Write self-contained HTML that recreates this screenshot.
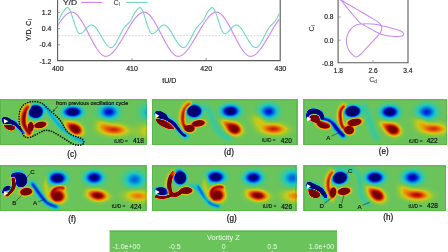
<!DOCTYPE html><html><head><meta charset="utf-8"><style>html,body{margin:0;padding:0;background:#fff;}body{width:448px;height:252px;overflow:hidden;}svg{display:block;}text{font-family:"Liberation Sans", Arial, sans-serif;}</style></head><body><svg width="448" height="252" viewBox="0 0 448 252"><defs><filter id="f0" filterUnits="userSpaceOnUse" x="0" y="90" width="448" height="130" color-interpolation-filters="sRGB"><feGaussianBlur stdDeviation="0.55"/></filter><filter id="f1" filterUnits="userSpaceOnUse" x="0" y="90" width="448" height="130" color-interpolation-filters="sRGB"><feGaussianBlur stdDeviation="1.40"/></filter><filter id="f2" filterUnits="userSpaceOnUse" x="0" y="90" width="448" height="130" color-interpolation-filters="sRGB"><feGaussianBlur stdDeviation="0.80"/></filter><filter id="f3" filterUnits="userSpaceOnUse" x="0" y="90" width="448" height="130" color-interpolation-filters="sRGB"><feGaussianBlur stdDeviation="1.60"/></filter><radialGradient id="gp0"><stop offset="0.000" stop-color="#f00" stop-opacity="1.000"/><stop offset="0.062" stop-color="#f00" stop-opacity="1.000"/><stop offset="0.125" stop-color="#f00" stop-opacity="1.000"/><stop offset="0.188" stop-color="#f00" stop-opacity="1.000"/><stop offset="0.250" stop-color="#f00" stop-opacity="1.000"/><stop offset="0.312" stop-color="#f00" stop-opacity="1.000"/><stop offset="0.375" stop-color="#f00" stop-opacity="1.000"/><stop offset="0.438" stop-color="#f00" stop-opacity="1.000"/><stop offset="0.500" stop-color="#f00" stop-opacity="1.000"/><stop offset="0.562" stop-color="#f00" stop-opacity="0.901"/><stop offset="0.625" stop-color="#f00" stop-opacity="0.578"/><stop offset="0.688" stop-color="#f00" stop-opacity="0.353"/><stop offset="0.750" stop-color="#f00" stop-opacity="0.206"/><stop offset="0.812" stop-color="#f00" stop-opacity="0.115"/><stop offset="0.875" stop-color="#f00" stop-opacity="0.061"/><stop offset="0.938" stop-color="#f00" stop-opacity="0.031"/><stop offset="1.000" stop-color="#f00" stop-opacity="0.015"/></radialGradient><radialGradient id="gn1"><stop offset="0.000" stop-color="#00f" stop-opacity="1.000"/><stop offset="0.062" stop-color="#00f" stop-opacity="1.000"/><stop offset="0.125" stop-color="#00f" stop-opacity="1.000"/><stop offset="0.188" stop-color="#00f" stop-opacity="1.000"/><stop offset="0.250" stop-color="#00f" stop-opacity="1.000"/><stop offset="0.312" stop-color="#00f" stop-opacity="1.000"/><stop offset="0.375" stop-color="#00f" stop-opacity="1.000"/><stop offset="0.438" stop-color="#00f" stop-opacity="1.000"/><stop offset="0.500" stop-color="#00f" stop-opacity="1.000"/><stop offset="0.562" stop-color="#00f" stop-opacity="0.901"/><stop offset="0.625" stop-color="#00f" stop-opacity="0.578"/><stop offset="0.688" stop-color="#00f" stop-opacity="0.353"/><stop offset="0.750" stop-color="#00f" stop-opacity="0.206"/><stop offset="0.812" stop-color="#00f" stop-opacity="0.115"/><stop offset="0.875" stop-color="#00f" stop-opacity="0.061"/><stop offset="0.938" stop-color="#00f" stop-opacity="0.031"/><stop offset="1.000" stop-color="#00f" stop-opacity="0.015"/></radialGradient><radialGradient id="gn2"><stop offset="0.000" stop-color="#00f" stop-opacity="1.000"/><stop offset="0.062" stop-color="#00f" stop-opacity="1.000"/><stop offset="0.125" stop-color="#00f" stop-opacity="1.000"/><stop offset="0.188" stop-color="#00f" stop-opacity="1.000"/><stop offset="0.250" stop-color="#00f" stop-opacity="1.000"/><stop offset="0.312" stop-color="#00f" stop-opacity="0.899"/><stop offset="0.375" stop-color="#00f" stop-opacity="0.740"/><stop offset="0.438" stop-color="#00f" stop-opacity="0.588"/><stop offset="0.500" stop-color="#00f" stop-opacity="0.450"/><stop offset="0.562" stop-color="#00f" stop-opacity="0.333"/><stop offset="0.625" stop-color="#00f" stop-opacity="0.238"/><stop offset="0.688" stop-color="#00f" stop-opacity="0.164"/><stop offset="0.750" stop-color="#00f" stop-opacity="0.109"/><stop offset="0.812" stop-color="#00f" stop-opacity="0.070"/><stop offset="0.875" stop-color="#00f" stop-opacity="0.043"/><stop offset="0.938" stop-color="#00f" stop-opacity="0.026"/><stop offset="1.000" stop-color="#00f" stop-opacity="0.015"/></radialGradient><filter id="f4" filterUnits="userSpaceOnUse" x="0" y="90" width="448" height="130" color-interpolation-filters="sRGB"><feGaussianBlur stdDeviation="2.00"/></filter><radialGradient id="gp3"><stop offset="0.000" stop-color="#f00" stop-opacity="1.000"/><stop offset="0.062" stop-color="#f00" stop-opacity="1.000"/><stop offset="0.125" stop-color="#f00" stop-opacity="1.000"/><stop offset="0.188" stop-color="#f00" stop-opacity="1.000"/><stop offset="0.250" stop-color="#f00" stop-opacity="0.913"/><stop offset="0.312" stop-color="#f00" stop-opacity="0.782"/><stop offset="0.375" stop-color="#f00" stop-opacity="0.648"/><stop offset="0.438" stop-color="#f00" stop-opacity="0.519"/><stop offset="0.500" stop-color="#f00" stop-opacity="0.401"/><stop offset="0.562" stop-color="#f00" stop-opacity="0.300"/><stop offset="0.625" stop-color="#f00" stop-opacity="0.217"/><stop offset="0.688" stop-color="#f00" stop-opacity="0.151"/><stop offset="0.750" stop-color="#f00" stop-opacity="0.102"/><stop offset="0.812" stop-color="#f00" stop-opacity="0.067"/><stop offset="0.875" stop-color="#f00" stop-opacity="0.042"/><stop offset="0.938" stop-color="#f00" stop-opacity="0.026"/><stop offset="1.000" stop-color="#f00" stop-opacity="0.015"/></radialGradient><radialGradient id="gn4"><stop offset="0.000" stop-color="#00f" stop-opacity="0.800"/><stop offset="0.062" stop-color="#00f" stop-opacity="0.788"/><stop offset="0.125" stop-color="#00f" stop-opacity="0.752"/><stop offset="0.188" stop-color="#00f" stop-opacity="0.696"/><stop offset="0.250" stop-color="#00f" stop-opacity="0.624"/><stop offset="0.312" stop-color="#00f" stop-opacity="0.543"/><stop offset="0.375" stop-color="#00f" stop-opacity="0.457"/><stop offset="0.438" stop-color="#00f" stop-opacity="0.374"/><stop offset="0.500" stop-color="#00f" stop-opacity="0.296"/><stop offset="0.562" stop-color="#00f" stop-opacity="0.227"/><stop offset="0.625" stop-color="#00f" stop-opacity="0.169"/><stop offset="0.688" stop-color="#00f" stop-opacity="0.122"/><stop offset="0.750" stop-color="#00f" stop-opacity="0.085"/><stop offset="0.812" stop-color="#00f" stop-opacity="0.058"/><stop offset="0.875" stop-color="#00f" stop-opacity="0.038"/><stop offset="0.938" stop-color="#00f" stop-opacity="0.024"/><stop offset="1.000" stop-color="#00f" stop-opacity="0.015"/></radialGradient><radialGradient id="gp5"><stop offset="0.000" stop-color="#f00" stop-opacity="0.720"/><stop offset="0.062" stop-color="#f00" stop-opacity="0.709"/><stop offset="0.125" stop-color="#f00" stop-opacity="0.678"/><stop offset="0.188" stop-color="#f00" stop-opacity="0.628"/><stop offset="0.250" stop-color="#f00" stop-opacity="0.565"/><stop offset="0.312" stop-color="#f00" stop-opacity="0.493"/><stop offset="0.375" stop-color="#f00" stop-opacity="0.418"/><stop offset="0.438" stop-color="#f00" stop-opacity="0.343"/><stop offset="0.500" stop-color="#f00" stop-opacity="0.274"/><stop offset="0.562" stop-color="#f00" stop-opacity="0.212"/><stop offset="0.625" stop-color="#f00" stop-opacity="0.159"/><stop offset="0.688" stop-color="#f00" stop-opacity="0.116"/><stop offset="0.750" stop-color="#f00" stop-opacity="0.082"/><stop offset="0.812" stop-color="#f00" stop-opacity="0.056"/><stop offset="0.875" stop-color="#f00" stop-opacity="0.037"/><stop offset="0.938" stop-color="#f00" stop-opacity="0.024"/><stop offset="1.000" stop-color="#f00" stop-opacity="0.015"/></radialGradient><radialGradient id="gp6"><stop offset="0.000" stop-color="#f00" stop-opacity="0.300"/><stop offset="0.062" stop-color="#f00" stop-opacity="0.297"/><stop offset="0.125" stop-color="#f00" stop-opacity="0.286"/><stop offset="0.188" stop-color="#f00" stop-opacity="0.270"/><stop offset="0.250" stop-color="#f00" stop-opacity="0.249"/><stop offset="0.312" stop-color="#f00" stop-opacity="0.224"/><stop offset="0.375" stop-color="#f00" stop-opacity="0.197"/><stop offset="0.438" stop-color="#f00" stop-opacity="0.169"/><stop offset="0.500" stop-color="#f00" stop-opacity="0.142"/><stop offset="0.562" stop-color="#f00" stop-opacity="0.116"/><stop offset="0.625" stop-color="#f00" stop-opacity="0.093"/><stop offset="0.688" stop-color="#f00" stop-opacity="0.073"/><stop offset="0.750" stop-color="#f00" stop-opacity="0.056"/><stop offset="0.812" stop-color="#f00" stop-opacity="0.042"/><stop offset="0.875" stop-color="#f00" stop-opacity="0.030"/><stop offset="0.938" stop-color="#f00" stop-opacity="0.022"/><stop offset="1.000" stop-color="#f00" stop-opacity="0.015"/></radialGradient><radialGradient id="gn7"><stop offset="0.000" stop-color="#00f" stop-opacity="0.500"/><stop offset="0.062" stop-color="#00f" stop-opacity="0.493"/><stop offset="0.125" stop-color="#00f" stop-opacity="0.473"/><stop offset="0.188" stop-color="#00f" stop-opacity="0.442"/><stop offset="0.250" stop-color="#00f" stop-opacity="0.402"/><stop offset="0.312" stop-color="#00f" stop-opacity="0.355"/><stop offset="0.375" stop-color="#00f" stop-opacity="0.305"/><stop offset="0.438" stop-color="#00f" stop-opacity="0.256"/><stop offset="0.500" stop-color="#00f" stop-opacity="0.208"/><stop offset="0.562" stop-color="#00f" stop-opacity="0.165"/><stop offset="0.625" stop-color="#00f" stop-opacity="0.127"/><stop offset="0.688" stop-color="#00f" stop-opacity="0.095"/><stop offset="0.750" stop-color="#00f" stop-opacity="0.070"/><stop offset="0.812" stop-color="#00f" stop-opacity="0.049"/><stop offset="0.875" stop-color="#00f" stop-opacity="0.034"/><stop offset="0.938" stop-color="#00f" stop-opacity="0.023"/><stop offset="1.000" stop-color="#00f" stop-opacity="0.015"/></radialGradient><radialGradient id="gp8"><stop offset="0.000" stop-color="#f00" stop-opacity="0.420"/><stop offset="0.062" stop-color="#f00" stop-opacity="0.415"/><stop offset="0.125" stop-color="#f00" stop-opacity="0.399"/><stop offset="0.188" stop-color="#f00" stop-opacity="0.374"/><stop offset="0.250" stop-color="#f00" stop-opacity="0.341"/><stop offset="0.312" stop-color="#f00" stop-opacity="0.303"/><stop offset="0.375" stop-color="#f00" stop-opacity="0.263"/><stop offset="0.438" stop-color="#f00" stop-opacity="0.222"/><stop offset="0.500" stop-color="#f00" stop-opacity="0.183"/><stop offset="0.562" stop-color="#f00" stop-opacity="0.146"/><stop offset="0.625" stop-color="#f00" stop-opacity="0.114"/><stop offset="0.688" stop-color="#f00" stop-opacity="0.087"/><stop offset="0.750" stop-color="#f00" stop-opacity="0.064"/><stop offset="0.812" stop-color="#f00" stop-opacity="0.047"/><stop offset="0.875" stop-color="#f00" stop-opacity="0.033"/><stop offset="0.938" stop-color="#f00" stop-opacity="0.022"/><stop offset="1.000" stop-color="#f00" stop-opacity="0.015"/></radialGradient><filter id="jet0" filterUnits="userSpaceOnUse" x="0.00" y="99.60" width="146.60" height="45.20" color-interpolation-filters="sRGB"><feGaussianBlur stdDeviation="0.6"/><feColorMatrix type="matrix" values="0.5 0 -0.5 0 0.5  0.5 0 -0.5 0 0.5  0.5 0 -0.5 0 0.5  0 0 0 0 1"/><feComponentTransfer><feFuncR type="table" tableValues="0.000 0.000 0.000 0.000 0.000 0.000 0.000 0.000 0.000 0.000 0.000 0.000 0.000 0.000 0.000 0.000 0.005 0.013 0.020 0.028 0.036 0.050 0.070 0.091 0.111 0.145 0.186 0.227 0.268 0.305 0.342 0.379 0.416 0.461 0.506 0.550 0.596 0.644 0.692 0.740 0.789 0.820 0.843 0.866 0.888 0.911 0.918 0.911 0.904 0.897 0.891 0.884 0.867 0.848 0.829 0.810 0.790 0.755 0.711 0.667 0.623 0.580 0.537 0.494 0.451"/><feFuncG type="table" tableValues="0.000 0.000 0.000 0.000 0.000 0.000 0.027 0.058 0.088 0.119 0.150 0.198 0.251 0.305 0.358 0.412 0.461 0.507 0.553 0.599 0.645 0.683 0.713 0.744 0.775 0.784 0.784 0.784 0.784 0.781 0.777 0.773 0.769 0.773 0.777 0.781 0.785 0.789 0.794 0.798 0.803 0.775 0.733 0.691 0.649 0.607 0.563 0.519 0.475 0.431 0.386 0.342 0.300 0.258 0.215 0.173 0.131 0.100 0.074 0.047 0.021 0.000 0.000 0.000 0.000"/><feFuncB type="table" tableValues="0.431 0.489 0.546 0.604 0.661 0.719 0.746 0.769 0.792 0.815 0.838 0.846 0.850 0.854 0.858 0.861 0.860 0.856 0.853 0.849 0.845 0.833 0.812 0.792 0.771 0.727 0.670 0.614 0.558 0.508 0.459 0.410 0.361 0.323 0.285 0.247 0.211 0.180 0.150 0.119 0.088 0.073 0.066 0.058 0.050 0.043 0.039 0.039 0.039 0.039 0.039 0.039 0.036 0.032 0.028 0.025 0.021 0.017 0.012 0.008 0.004 0.000 0.000 0.000 0.000"/></feComponentTransfer></filter><filter id="f5" filterUnits="userSpaceOnUse" x="0" y="90" width="448" height="130" color-interpolation-filters="sRGB"><feGaussianBlur stdDeviation="0.75"/></filter><filter id="f6" filterUnits="userSpaceOnUse" x="0" y="90" width="448" height="130" color-interpolation-filters="sRGB"><feGaussianBlur stdDeviation="1.30"/></filter><filter id="f7" filterUnits="userSpaceOnUse" x="0" y="90" width="448" height="130" color-interpolation-filters="sRGB"><feGaussianBlur stdDeviation="0.85"/></filter><radialGradient id="gn9"><stop offset="0.000" stop-color="#00f" stop-opacity="1.000"/><stop offset="0.062" stop-color="#00f" stop-opacity="1.000"/><stop offset="0.125" stop-color="#00f" stop-opacity="1.000"/><stop offset="0.188" stop-color="#00f" stop-opacity="1.000"/><stop offset="0.250" stop-color="#00f" stop-opacity="1.000"/><stop offset="0.312" stop-color="#00f" stop-opacity="1.000"/><stop offset="0.375" stop-color="#00f" stop-opacity="1.000"/><stop offset="0.438" stop-color="#00f" stop-opacity="1.000"/><stop offset="0.500" stop-color="#00f" stop-opacity="0.990"/><stop offset="0.562" stop-color="#00f" stop-opacity="0.683"/><stop offset="0.625" stop-color="#00f" stop-opacity="0.451"/><stop offset="0.688" stop-color="#00f" stop-opacity="0.285"/><stop offset="0.750" stop-color="#00f" stop-opacity="0.173"/><stop offset="0.812" stop-color="#00f" stop-opacity="0.100"/><stop offset="0.875" stop-color="#00f" stop-opacity="0.056"/><stop offset="0.938" stop-color="#00f" stop-opacity="0.030"/><stop offset="1.000" stop-color="#00f" stop-opacity="0.015"/></radialGradient><filter id="f8" filterUnits="userSpaceOnUse" x="0" y="90" width="448" height="130" color-interpolation-filters="sRGB"><feGaussianBlur stdDeviation="1.90"/></filter><radialGradient id="gn10"><stop offset="0.000" stop-color="#00f" stop-opacity="1.000"/><stop offset="0.062" stop-color="#00f" stop-opacity="1.000"/><stop offset="0.125" stop-color="#00f" stop-opacity="1.000"/><stop offset="0.188" stop-color="#00f" stop-opacity="1.000"/><stop offset="0.250" stop-color="#00f" stop-opacity="0.984"/><stop offset="0.312" stop-color="#00f" stop-opacity="0.841"/><stop offset="0.375" stop-color="#00f" stop-opacity="0.694"/><stop offset="0.438" stop-color="#00f" stop-opacity="0.553"/><stop offset="0.500" stop-color="#00f" stop-opacity="0.426"/><stop offset="0.562" stop-color="#00f" stop-opacity="0.317"/><stop offset="0.625" stop-color="#00f" stop-opacity="0.227"/><stop offset="0.688" stop-color="#00f" stop-opacity="0.158"/><stop offset="0.750" stop-color="#00f" stop-opacity="0.106"/><stop offset="0.812" stop-color="#00f" stop-opacity="0.068"/><stop offset="0.875" stop-color="#00f" stop-opacity="0.043"/><stop offset="0.938" stop-color="#00f" stop-opacity="0.026"/><stop offset="1.000" stop-color="#00f" stop-opacity="0.015"/></radialGradient><radialGradient id="gn11"><stop offset="0.000" stop-color="#00f" stop-opacity="0.750"/><stop offset="0.062" stop-color="#00f" stop-opacity="0.739"/><stop offset="0.125" stop-color="#00f" stop-opacity="0.706"/><stop offset="0.188" stop-color="#00f" stop-opacity="0.654"/><stop offset="0.250" stop-color="#00f" stop-opacity="0.587"/><stop offset="0.312" stop-color="#00f" stop-opacity="0.512"/><stop offset="0.375" stop-color="#00f" stop-opacity="0.433"/><stop offset="0.438" stop-color="#00f" stop-opacity="0.355"/><stop offset="0.500" stop-color="#00f" stop-opacity="0.282"/><stop offset="0.562" stop-color="#00f" stop-opacity="0.218"/><stop offset="0.625" stop-color="#00f" stop-opacity="0.163"/><stop offset="0.688" stop-color="#00f" stop-opacity="0.118"/><stop offset="0.750" stop-color="#00f" stop-opacity="0.083"/><stop offset="0.812" stop-color="#00f" stop-opacity="0.057"/><stop offset="0.875" stop-color="#00f" stop-opacity="0.038"/><stop offset="0.938" stop-color="#00f" stop-opacity="0.024"/><stop offset="1.000" stop-color="#00f" stop-opacity="0.015"/></radialGradient><radialGradient id="gp12"><stop offset="0.000" stop-color="#f00" stop-opacity="0.750"/><stop offset="0.062" stop-color="#f00" stop-opacity="0.739"/><stop offset="0.125" stop-color="#f00" stop-opacity="0.706"/><stop offset="0.188" stop-color="#f00" stop-opacity="0.654"/><stop offset="0.250" stop-color="#f00" stop-opacity="0.587"/><stop offset="0.312" stop-color="#f00" stop-opacity="0.512"/><stop offset="0.375" stop-color="#f00" stop-opacity="0.433"/><stop offset="0.438" stop-color="#f00" stop-opacity="0.355"/><stop offset="0.500" stop-color="#f00" stop-opacity="0.282"/><stop offset="0.562" stop-color="#f00" stop-opacity="0.218"/><stop offset="0.625" stop-color="#f00" stop-opacity="0.163"/><stop offset="0.688" stop-color="#f00" stop-opacity="0.118"/><stop offset="0.750" stop-color="#f00" stop-opacity="0.083"/><stop offset="0.812" stop-color="#f00" stop-opacity="0.057"/><stop offset="0.875" stop-color="#f00" stop-opacity="0.038"/><stop offset="0.938" stop-color="#f00" stop-opacity="0.024"/><stop offset="1.000" stop-color="#f00" stop-opacity="0.015"/></radialGradient><radialGradient id="gp13"><stop offset="0.000" stop-color="#f00" stop-opacity="0.280"/><stop offset="0.062" stop-color="#f00" stop-opacity="0.277"/><stop offset="0.125" stop-color="#f00" stop-opacity="0.267"/><stop offset="0.188" stop-color="#f00" stop-opacity="0.253"/><stop offset="0.250" stop-color="#f00" stop-opacity="0.233"/><stop offset="0.312" stop-color="#f00" stop-opacity="0.210"/><stop offset="0.375" stop-color="#f00" stop-opacity="0.186"/><stop offset="0.438" stop-color="#f00" stop-opacity="0.160"/><stop offset="0.500" stop-color="#f00" stop-opacity="0.135"/><stop offset="0.562" stop-color="#f00" stop-opacity="0.111"/><stop offset="0.625" stop-color="#f00" stop-opacity="0.089"/><stop offset="0.688" stop-color="#f00" stop-opacity="0.070"/><stop offset="0.750" stop-color="#f00" stop-opacity="0.054"/><stop offset="0.812" stop-color="#f00" stop-opacity="0.041"/><stop offset="0.875" stop-color="#f00" stop-opacity="0.030"/><stop offset="0.938" stop-color="#f00" stop-opacity="0.021"/><stop offset="1.000" stop-color="#f00" stop-opacity="0.015"/></radialGradient><filter id="jet1" filterUnits="userSpaceOnUse" x="152.00" y="99.60" width="145.10" height="45.20" color-interpolation-filters="sRGB"><feGaussianBlur stdDeviation="0.6"/><feColorMatrix type="matrix" values="0.5 0 -0.5 0 0.5  0.5 0 -0.5 0 0.5  0.5 0 -0.5 0 0.5  0 0 0 0 1"/><feComponentTransfer><feFuncR type="table" tableValues="0.000 0.000 0.000 0.000 0.000 0.000 0.000 0.000 0.000 0.000 0.000 0.000 0.000 0.000 0.000 0.000 0.005 0.013 0.020 0.028 0.036 0.050 0.070 0.091 0.111 0.145 0.186 0.227 0.268 0.305 0.342 0.379 0.416 0.461 0.506 0.550 0.596 0.644 0.692 0.740 0.789 0.820 0.843 0.866 0.888 0.911 0.918 0.911 0.904 0.897 0.891 0.884 0.867 0.848 0.829 0.810 0.790 0.755 0.711 0.667 0.623 0.580 0.537 0.494 0.451"/><feFuncG type="table" tableValues="0.000 0.000 0.000 0.000 0.000 0.000 0.027 0.058 0.088 0.119 0.150 0.198 0.251 0.305 0.358 0.412 0.461 0.507 0.553 0.599 0.645 0.683 0.713 0.744 0.775 0.784 0.784 0.784 0.784 0.781 0.777 0.773 0.769 0.773 0.777 0.781 0.785 0.789 0.794 0.798 0.803 0.775 0.733 0.691 0.649 0.607 0.563 0.519 0.475 0.431 0.386 0.342 0.300 0.258 0.215 0.173 0.131 0.100 0.074 0.047 0.021 0.000 0.000 0.000 0.000"/><feFuncB type="table" tableValues="0.431 0.489 0.546 0.604 0.661 0.719 0.746 0.769 0.792 0.815 0.838 0.846 0.850 0.854 0.858 0.861 0.860 0.856 0.853 0.849 0.845 0.833 0.812 0.792 0.771 0.727 0.670 0.614 0.558 0.508 0.459 0.410 0.361 0.323 0.285 0.247 0.211 0.180 0.150 0.119 0.088 0.073 0.066 0.058 0.050 0.043 0.039 0.039 0.039 0.039 0.039 0.039 0.036 0.032 0.028 0.025 0.021 0.017 0.012 0.008 0.004 0.000 0.000 0.000 0.000"/></feComponentTransfer></filter><filter id="f9" filterUnits="userSpaceOnUse" x="0" y="90" width="448" height="130" color-interpolation-filters="sRGB"><feGaussianBlur stdDeviation="0.70"/></filter><filter id="f10" filterUnits="userSpaceOnUse" x="0" y="90" width="448" height="130" color-interpolation-filters="sRGB"><feGaussianBlur stdDeviation="1.50"/></filter><radialGradient id="gn14"><stop offset="0.000" stop-color="#00f" stop-opacity="0.700"/><stop offset="0.062" stop-color="#00f" stop-opacity="0.690"/><stop offset="0.125" stop-color="#00f" stop-opacity="0.659"/><stop offset="0.188" stop-color="#00f" stop-opacity="0.612"/><stop offset="0.250" stop-color="#00f" stop-opacity="0.551"/><stop offset="0.312" stop-color="#00f" stop-opacity="0.481"/><stop offset="0.375" stop-color="#00f" stop-opacity="0.408"/><stop offset="0.438" stop-color="#00f" stop-opacity="0.335"/><stop offset="0.500" stop-color="#00f" stop-opacity="0.268"/><stop offset="0.562" stop-color="#00f" stop-opacity="0.207"/><stop offset="0.625" stop-color="#00f" stop-opacity="0.156"/><stop offset="0.688" stop-color="#00f" stop-opacity="0.114"/><stop offset="0.750" stop-color="#00f" stop-opacity="0.081"/><stop offset="0.812" stop-color="#00f" stop-opacity="0.055"/><stop offset="0.875" stop-color="#00f" stop-opacity="0.037"/><stop offset="0.938" stop-color="#00f" stop-opacity="0.024"/><stop offset="1.000" stop-color="#00f" stop-opacity="0.015"/></radialGradient><radialGradient id="gp15"><stop offset="0.000" stop-color="#f00" stop-opacity="0.700"/><stop offset="0.062" stop-color="#f00" stop-opacity="0.690"/><stop offset="0.125" stop-color="#f00" stop-opacity="0.659"/><stop offset="0.188" stop-color="#f00" stop-opacity="0.612"/><stop offset="0.250" stop-color="#f00" stop-opacity="0.551"/><stop offset="0.312" stop-color="#f00" stop-opacity="0.481"/><stop offset="0.375" stop-color="#f00" stop-opacity="0.408"/><stop offset="0.438" stop-color="#f00" stop-opacity="0.335"/><stop offset="0.500" stop-color="#f00" stop-opacity="0.268"/><stop offset="0.562" stop-color="#f00" stop-opacity="0.207"/><stop offset="0.625" stop-color="#f00" stop-opacity="0.156"/><stop offset="0.688" stop-color="#f00" stop-opacity="0.114"/><stop offset="0.750" stop-color="#f00" stop-opacity="0.081"/><stop offset="0.812" stop-color="#f00" stop-opacity="0.055"/><stop offset="0.875" stop-color="#f00" stop-opacity="0.037"/><stop offset="0.938" stop-color="#f00" stop-opacity="0.024"/><stop offset="1.000" stop-color="#f00" stop-opacity="0.015"/></radialGradient><filter id="jet2" filterUnits="userSpaceOnUse" x="303.70" y="99.60" width="143.10" height="45.20" color-interpolation-filters="sRGB"><feGaussianBlur stdDeviation="0.6"/><feColorMatrix type="matrix" values="0.5 0 -0.5 0 0.5  0.5 0 -0.5 0 0.5  0.5 0 -0.5 0 0.5  0 0 0 0 1"/><feComponentTransfer><feFuncR type="table" tableValues="0.000 0.000 0.000 0.000 0.000 0.000 0.000 0.000 0.000 0.000 0.000 0.000 0.000 0.000 0.000 0.000 0.005 0.013 0.020 0.028 0.036 0.050 0.070 0.091 0.111 0.145 0.186 0.227 0.268 0.305 0.342 0.379 0.416 0.461 0.506 0.550 0.596 0.644 0.692 0.740 0.789 0.820 0.843 0.866 0.888 0.911 0.918 0.911 0.904 0.897 0.891 0.884 0.867 0.848 0.829 0.810 0.790 0.755 0.711 0.667 0.623 0.580 0.537 0.494 0.451"/><feFuncG type="table" tableValues="0.000 0.000 0.000 0.000 0.000 0.000 0.027 0.058 0.088 0.119 0.150 0.198 0.251 0.305 0.358 0.412 0.461 0.507 0.553 0.599 0.645 0.683 0.713 0.744 0.775 0.784 0.784 0.784 0.784 0.781 0.777 0.773 0.769 0.773 0.777 0.781 0.785 0.789 0.794 0.798 0.803 0.775 0.733 0.691 0.649 0.607 0.563 0.519 0.475 0.431 0.386 0.342 0.300 0.258 0.215 0.173 0.131 0.100 0.074 0.047 0.021 0.000 0.000 0.000 0.000"/><feFuncB type="table" tableValues="0.431 0.489 0.546 0.604 0.661 0.719 0.746 0.769 0.792 0.815 0.838 0.846 0.850 0.854 0.858 0.861 0.860 0.856 0.853 0.849 0.845 0.833 0.812 0.792 0.771 0.727 0.670 0.614 0.558 0.508 0.459 0.410 0.361 0.323 0.285 0.247 0.211 0.180 0.150 0.119 0.088 0.073 0.066 0.058 0.050 0.043 0.039 0.039 0.039 0.039 0.039 0.039 0.036 0.032 0.028 0.025 0.021 0.017 0.012 0.008 0.004 0.000 0.000 0.000 0.000"/></feComponentTransfer></filter><filter id="f11" filterUnits="userSpaceOnUse" x="0" y="90" width="448" height="130" color-interpolation-filters="sRGB"><feGaussianBlur stdDeviation="0.60"/></filter><filter id="f12" filterUnits="userSpaceOnUse" x="0" y="90" width="448" height="130" color-interpolation-filters="sRGB"><feGaussianBlur stdDeviation="1.00"/></filter><filter id="f13" filterUnits="userSpaceOnUse" x="0" y="90" width="448" height="130" color-interpolation-filters="sRGB"><feGaussianBlur stdDeviation="1.70"/></filter><radialGradient id="gp16"><stop offset="0.000" stop-color="#f00" stop-opacity="1.000"/><stop offset="0.062" stop-color="#f00" stop-opacity="1.000"/><stop offset="0.125" stop-color="#f00" stop-opacity="1.000"/><stop offset="0.188" stop-color="#f00" stop-opacity="1.000"/><stop offset="0.250" stop-color="#f00" stop-opacity="1.000"/><stop offset="0.312" stop-color="#f00" stop-opacity="0.870"/><stop offset="0.375" stop-color="#f00" stop-opacity="0.717"/><stop offset="0.438" stop-color="#f00" stop-opacity="0.571"/><stop offset="0.500" stop-color="#f00" stop-opacity="0.438"/><stop offset="0.562" stop-color="#f00" stop-opacity="0.325"/><stop offset="0.625" stop-color="#f00" stop-opacity="0.233"/><stop offset="0.688" stop-color="#f00" stop-opacity="0.161"/><stop offset="0.750" stop-color="#f00" stop-opacity="0.107"/><stop offset="0.812" stop-color="#f00" stop-opacity="0.069"/><stop offset="0.875" stop-color="#f00" stop-opacity="0.043"/><stop offset="0.938" stop-color="#f00" stop-opacity="0.026"/><stop offset="1.000" stop-color="#f00" stop-opacity="0.015"/></radialGradient><radialGradient id="gp17"><stop offset="0.000" stop-color="#f00" stop-opacity="0.850"/><stop offset="0.062" stop-color="#f00" stop-opacity="0.837"/><stop offset="0.125" stop-color="#f00" stop-opacity="0.798"/><stop offset="0.188" stop-color="#f00" stop-opacity="0.738"/><stop offset="0.250" stop-color="#f00" stop-opacity="0.660"/><stop offset="0.312" stop-color="#f00" stop-opacity="0.573"/><stop offset="0.375" stop-color="#f00" stop-opacity="0.482"/><stop offset="0.438" stop-color="#f00" stop-opacity="0.392"/><stop offset="0.500" stop-color="#f00" stop-opacity="0.310"/><stop offset="0.562" stop-color="#f00" stop-opacity="0.237"/><stop offset="0.625" stop-color="#f00" stop-opacity="0.176"/><stop offset="0.688" stop-color="#f00" stop-opacity="0.126"/><stop offset="0.750" stop-color="#f00" stop-opacity="0.088"/><stop offset="0.812" stop-color="#f00" stop-opacity="0.059"/><stop offset="0.875" stop-color="#f00" stop-opacity="0.039"/><stop offset="0.938" stop-color="#f00" stop-opacity="0.024"/><stop offset="1.000" stop-color="#f00" stop-opacity="0.015"/></radialGradient><filter id="f14" filterUnits="userSpaceOnUse" x="0" y="90" width="448" height="130" color-interpolation-filters="sRGB"><feGaussianBlur stdDeviation="1.80"/></filter><radialGradient id="gn18"><stop offset="0.000" stop-color="#00f" stop-opacity="1.000"/><stop offset="0.062" stop-color="#00f" stop-opacity="1.000"/><stop offset="0.125" stop-color="#00f" stop-opacity="1.000"/><stop offset="0.188" stop-color="#00f" stop-opacity="0.946"/><stop offset="0.250" stop-color="#00f" stop-opacity="0.841"/><stop offset="0.312" stop-color="#00f" stop-opacity="0.723"/><stop offset="0.375" stop-color="#00f" stop-opacity="0.601"/><stop offset="0.438" stop-color="#00f" stop-opacity="0.483"/><stop offset="0.500" stop-color="#00f" stop-opacity="0.376"/><stop offset="0.562" stop-color="#00f" stop-opacity="0.283"/><stop offset="0.625" stop-color="#00f" stop-opacity="0.205"/><stop offset="0.688" stop-color="#00f" stop-opacity="0.144"/><stop offset="0.750" stop-color="#00f" stop-opacity="0.098"/><stop offset="0.812" stop-color="#00f" stop-opacity="0.065"/><stop offset="0.875" stop-color="#00f" stop-opacity="0.041"/><stop offset="0.938" stop-color="#00f" stop-opacity="0.025"/><stop offset="1.000" stop-color="#00f" stop-opacity="0.015"/></radialGradient><radialGradient id="gp19"><stop offset="0.000" stop-color="#f00" stop-opacity="1.000"/><stop offset="0.062" stop-color="#f00" stop-opacity="1.000"/><stop offset="0.125" stop-color="#f00" stop-opacity="0.983"/><stop offset="0.188" stop-color="#f00" stop-opacity="0.904"/><stop offset="0.250" stop-color="#f00" stop-opacity="0.805"/><stop offset="0.312" stop-color="#f00" stop-opacity="0.693"/><stop offset="0.375" stop-color="#f00" stop-opacity="0.578"/><stop offset="0.438" stop-color="#f00" stop-opacity="0.466"/><stop offset="0.500" stop-color="#f00" stop-opacity="0.363"/><stop offset="0.562" stop-color="#f00" stop-opacity="0.274"/><stop offset="0.625" stop-color="#f00" stop-opacity="0.200"/><stop offset="0.688" stop-color="#f00" stop-opacity="0.141"/><stop offset="0.750" stop-color="#f00" stop-opacity="0.096"/><stop offset="0.812" stop-color="#f00" stop-opacity="0.064"/><stop offset="0.875" stop-color="#f00" stop-opacity="0.041"/><stop offset="0.938" stop-color="#f00" stop-opacity="0.025"/><stop offset="1.000" stop-color="#f00" stop-opacity="0.015"/></radialGradient><radialGradient id="gn20"><stop offset="0.000" stop-color="#00f" stop-opacity="0.550"/><stop offset="0.062" stop-color="#00f" stop-opacity="0.542"/><stop offset="0.125" stop-color="#00f" stop-opacity="0.520"/><stop offset="0.188" stop-color="#00f" stop-opacity="0.485"/><stop offset="0.250" stop-color="#00f" stop-opacity="0.439"/><stop offset="0.312" stop-color="#00f" stop-opacity="0.387"/><stop offset="0.375" stop-color="#00f" stop-opacity="0.331"/><stop offset="0.438" stop-color="#00f" stop-opacity="0.276"/><stop offset="0.500" stop-color="#00f" stop-opacity="0.224"/><stop offset="0.562" stop-color="#00f" stop-opacity="0.176"/><stop offset="0.625" stop-color="#00f" stop-opacity="0.135"/><stop offset="0.688" stop-color="#00f" stop-opacity="0.100"/><stop offset="0.750" stop-color="#00f" stop-opacity="0.073"/><stop offset="0.812" stop-color="#00f" stop-opacity="0.051"/><stop offset="0.875" stop-color="#00f" stop-opacity="0.035"/><stop offset="0.938" stop-color="#00f" stop-opacity="0.023"/><stop offset="1.000" stop-color="#00f" stop-opacity="0.015"/></radialGradient><radialGradient id="gp21"><stop offset="0.000" stop-color="#f00" stop-opacity="0.500"/><stop offset="0.062" stop-color="#f00" stop-opacity="0.493"/><stop offset="0.125" stop-color="#f00" stop-opacity="0.473"/><stop offset="0.188" stop-color="#f00" stop-opacity="0.442"/><stop offset="0.250" stop-color="#f00" stop-opacity="0.402"/><stop offset="0.312" stop-color="#f00" stop-opacity="0.355"/><stop offset="0.375" stop-color="#f00" stop-opacity="0.305"/><stop offset="0.438" stop-color="#f00" stop-opacity="0.256"/><stop offset="0.500" stop-color="#f00" stop-opacity="0.208"/><stop offset="0.562" stop-color="#f00" stop-opacity="0.165"/><stop offset="0.625" stop-color="#f00" stop-opacity="0.127"/><stop offset="0.688" stop-color="#f00" stop-opacity="0.095"/><stop offset="0.750" stop-color="#f00" stop-opacity="0.070"/><stop offset="0.812" stop-color="#f00" stop-opacity="0.049"/><stop offset="0.875" stop-color="#f00" stop-opacity="0.034"/><stop offset="0.938" stop-color="#f00" stop-opacity="0.023"/><stop offset="1.000" stop-color="#f00" stop-opacity="0.015"/></radialGradient><filter id="jet3" filterUnits="userSpaceOnUse" x="0.00" y="165.70" width="146.10" height="45.00" color-interpolation-filters="sRGB"><feGaussianBlur stdDeviation="0.6"/><feColorMatrix type="matrix" values="0.5 0 -0.5 0 0.5  0.5 0 -0.5 0 0.5  0.5 0 -0.5 0 0.5  0 0 0 0 1"/><feComponentTransfer><feFuncR type="table" tableValues="0.000 0.000 0.000 0.000 0.000 0.000 0.000 0.000 0.000 0.000 0.000 0.000 0.000 0.000 0.000 0.000 0.005 0.013 0.020 0.028 0.036 0.050 0.070 0.091 0.111 0.145 0.186 0.227 0.268 0.305 0.342 0.379 0.416 0.461 0.506 0.550 0.596 0.644 0.692 0.740 0.789 0.820 0.843 0.866 0.888 0.911 0.918 0.911 0.904 0.897 0.891 0.884 0.867 0.848 0.829 0.810 0.790 0.755 0.711 0.667 0.623 0.580 0.537 0.494 0.451"/><feFuncG type="table" tableValues="0.000 0.000 0.000 0.000 0.000 0.000 0.027 0.058 0.088 0.119 0.150 0.198 0.251 0.305 0.358 0.412 0.461 0.507 0.553 0.599 0.645 0.683 0.713 0.744 0.775 0.784 0.784 0.784 0.784 0.781 0.777 0.773 0.769 0.773 0.777 0.781 0.785 0.789 0.794 0.798 0.803 0.775 0.733 0.691 0.649 0.607 0.563 0.519 0.475 0.431 0.386 0.342 0.300 0.258 0.215 0.173 0.131 0.100 0.074 0.047 0.021 0.000 0.000 0.000 0.000"/><feFuncB type="table" tableValues="0.431 0.489 0.546 0.604 0.661 0.719 0.746 0.769 0.792 0.815 0.838 0.846 0.850 0.854 0.858 0.861 0.860 0.856 0.853 0.849 0.845 0.833 0.812 0.792 0.771 0.727 0.670 0.614 0.558 0.508 0.459 0.410 0.361 0.323 0.285 0.247 0.211 0.180 0.150 0.119 0.088 0.073 0.066 0.058 0.050 0.043 0.039 0.039 0.039 0.039 0.039 0.039 0.036 0.032 0.028 0.025 0.021 0.017 0.012 0.008 0.004 0.000 0.000 0.000 0.000"/></feComponentTransfer></filter><radialGradient id="gn22"><stop offset="0.000" stop-color="#00f" stop-opacity="1.000"/><stop offset="0.062" stop-color="#00f" stop-opacity="1.000"/><stop offset="0.125" stop-color="#00f" stop-opacity="1.000"/><stop offset="0.188" stop-color="#00f" stop-opacity="1.000"/><stop offset="0.250" stop-color="#00f" stop-opacity="1.000"/><stop offset="0.312" stop-color="#00f" stop-opacity="1.000"/><stop offset="0.375" stop-color="#00f" stop-opacity="1.000"/><stop offset="0.438" stop-color="#00f" stop-opacity="1.000"/><stop offset="0.500" stop-color="#00f" stop-opacity="1.000"/><stop offset="0.562" stop-color="#00f" stop-opacity="1.000"/><stop offset="0.625" stop-color="#00f" stop-opacity="0.688"/><stop offset="0.688" stop-color="#00f" stop-opacity="0.411"/><stop offset="0.750" stop-color="#00f" stop-opacity="0.234"/><stop offset="0.812" stop-color="#00f" stop-opacity="0.127"/><stop offset="0.875" stop-color="#00f" stop-opacity="0.065"/><stop offset="0.938" stop-color="#00f" stop-opacity="0.032"/><stop offset="1.000" stop-color="#00f" stop-opacity="0.015"/></radialGradient><radialGradient id="gn23"><stop offset="0.000" stop-color="#00f" stop-opacity="1.000"/><stop offset="0.062" stop-color="#00f" stop-opacity="1.000"/><stop offset="0.125" stop-color="#00f" stop-opacity="1.000"/><stop offset="0.188" stop-color="#00f" stop-opacity="1.000"/><stop offset="0.250" stop-color="#00f" stop-opacity="1.000"/><stop offset="0.312" stop-color="#00f" stop-opacity="0.870"/><stop offset="0.375" stop-color="#00f" stop-opacity="0.717"/><stop offset="0.438" stop-color="#00f" stop-opacity="0.571"/><stop offset="0.500" stop-color="#00f" stop-opacity="0.438"/><stop offset="0.562" stop-color="#00f" stop-opacity="0.325"/><stop offset="0.625" stop-color="#00f" stop-opacity="0.233"/><stop offset="0.688" stop-color="#00f" stop-opacity="0.161"/><stop offset="0.750" stop-color="#00f" stop-opacity="0.107"/><stop offset="0.812" stop-color="#00f" stop-opacity="0.069"/><stop offset="0.875" stop-color="#00f" stop-opacity="0.043"/><stop offset="0.938" stop-color="#00f" stop-opacity="0.026"/><stop offset="1.000" stop-color="#00f" stop-opacity="0.015"/></radialGradient><filter id="jet4" filterUnits="userSpaceOnUse" x="152.10" y="165.70" width="144.00" height="45.00" color-interpolation-filters="sRGB"><feGaussianBlur stdDeviation="0.6"/><feColorMatrix type="matrix" values="0.5 0 -0.5 0 0.5  0.5 0 -0.5 0 0.5  0.5 0 -0.5 0 0.5  0 0 0 0 1"/><feComponentTransfer><feFuncR type="table" tableValues="0.000 0.000 0.000 0.000 0.000 0.000 0.000 0.000 0.000 0.000 0.000 0.000 0.000 0.000 0.000 0.000 0.005 0.013 0.020 0.028 0.036 0.050 0.070 0.091 0.111 0.145 0.186 0.227 0.268 0.305 0.342 0.379 0.416 0.461 0.506 0.550 0.596 0.644 0.692 0.740 0.789 0.820 0.843 0.866 0.888 0.911 0.918 0.911 0.904 0.897 0.891 0.884 0.867 0.848 0.829 0.810 0.790 0.755 0.711 0.667 0.623 0.580 0.537 0.494 0.451"/><feFuncG type="table" tableValues="0.000 0.000 0.000 0.000 0.000 0.000 0.027 0.058 0.088 0.119 0.150 0.198 0.251 0.305 0.358 0.412 0.461 0.507 0.553 0.599 0.645 0.683 0.713 0.744 0.775 0.784 0.784 0.784 0.784 0.781 0.777 0.773 0.769 0.773 0.777 0.781 0.785 0.789 0.794 0.798 0.803 0.775 0.733 0.691 0.649 0.607 0.563 0.519 0.475 0.431 0.386 0.342 0.300 0.258 0.215 0.173 0.131 0.100 0.074 0.047 0.021 0.000 0.000 0.000 0.000"/><feFuncB type="table" tableValues="0.431 0.489 0.546 0.604 0.661 0.719 0.746 0.769 0.792 0.815 0.838 0.846 0.850 0.854 0.858 0.861 0.860 0.856 0.853 0.849 0.845 0.833 0.812 0.792 0.771 0.727 0.670 0.614 0.558 0.508 0.459 0.410 0.361 0.323 0.285 0.247 0.211 0.180 0.150 0.119 0.088 0.073 0.066 0.058 0.050 0.043 0.039 0.039 0.039 0.039 0.039 0.039 0.036 0.032 0.028 0.025 0.021 0.017 0.012 0.008 0.004 0.000 0.000 0.000 0.000"/></feComponentTransfer></filter><radialGradient id="gn24"><stop offset="0.000" stop-color="#00f" stop-opacity="1.000"/><stop offset="0.062" stop-color="#00f" stop-opacity="1.000"/><stop offset="0.125" stop-color="#00f" stop-opacity="1.000"/><stop offset="0.188" stop-color="#00f" stop-opacity="1.000"/><stop offset="0.250" stop-color="#00f" stop-opacity="1.000"/><stop offset="0.312" stop-color="#00f" stop-opacity="1.000"/><stop offset="0.375" stop-color="#00f" stop-opacity="1.000"/><stop offset="0.438" stop-color="#00f" stop-opacity="1.000"/><stop offset="0.500" stop-color="#00f" stop-opacity="1.000"/><stop offset="0.562" stop-color="#00f" stop-opacity="0.796"/><stop offset="0.625" stop-color="#00f" stop-opacity="0.517"/><stop offset="0.688" stop-color="#00f" stop-opacity="0.321"/><stop offset="0.750" stop-color="#00f" stop-opacity="0.190"/><stop offset="0.812" stop-color="#00f" stop-opacity="0.108"/><stop offset="0.875" stop-color="#00f" stop-opacity="0.059"/><stop offset="0.938" stop-color="#00f" stop-opacity="0.030"/><stop offset="1.000" stop-color="#00f" stop-opacity="0.015"/></radialGradient><radialGradient id="gn25"><stop offset="0.000" stop-color="#00f" stop-opacity="0.900"/><stop offset="0.062" stop-color="#00f" stop-opacity="0.886"/><stop offset="0.125" stop-color="#00f" stop-opacity="0.844"/><stop offset="0.188" stop-color="#00f" stop-opacity="0.779"/><stop offset="0.250" stop-color="#00f" stop-opacity="0.697"/><stop offset="0.312" stop-color="#00f" stop-opacity="0.603"/><stop offset="0.375" stop-color="#00f" stop-opacity="0.506"/><stop offset="0.438" stop-color="#00f" stop-opacity="0.411"/><stop offset="0.500" stop-color="#00f" stop-opacity="0.323"/><stop offset="0.562" stop-color="#00f" stop-opacity="0.246"/><stop offset="0.625" stop-color="#00f" stop-opacity="0.182"/><stop offset="0.688" stop-color="#00f" stop-opacity="0.130"/><stop offset="0.750" stop-color="#00f" stop-opacity="0.090"/><stop offset="0.812" stop-color="#00f" stop-opacity="0.060"/><stop offset="0.875" stop-color="#00f" stop-opacity="0.039"/><stop offset="0.938" stop-color="#00f" stop-opacity="0.025"/><stop offset="1.000" stop-color="#00f" stop-opacity="0.015"/></radialGradient><filter id="jet5" filterUnits="userSpaceOnUse" x="303.80" y="165.70" width="142.20" height="45.00" color-interpolation-filters="sRGB"><feGaussianBlur stdDeviation="0.6"/><feColorMatrix type="matrix" values="0.5 0 -0.5 0 0.5  0.5 0 -0.5 0 0.5  0.5 0 -0.5 0 0.5  0 0 0 0 1"/><feComponentTransfer><feFuncR type="table" tableValues="0.000 0.000 0.000 0.000 0.000 0.000 0.000 0.000 0.000 0.000 0.000 0.000 0.000 0.000 0.000 0.000 0.005 0.013 0.020 0.028 0.036 0.050 0.070 0.091 0.111 0.145 0.186 0.227 0.268 0.305 0.342 0.379 0.416 0.461 0.506 0.550 0.596 0.644 0.692 0.740 0.789 0.820 0.843 0.866 0.888 0.911 0.918 0.911 0.904 0.897 0.891 0.884 0.867 0.848 0.829 0.810 0.790 0.755 0.711 0.667 0.623 0.580 0.537 0.494 0.451"/><feFuncG type="table" tableValues="0.000 0.000 0.000 0.000 0.000 0.000 0.027 0.058 0.088 0.119 0.150 0.198 0.251 0.305 0.358 0.412 0.461 0.507 0.553 0.599 0.645 0.683 0.713 0.744 0.775 0.784 0.784 0.784 0.784 0.781 0.777 0.773 0.769 0.773 0.777 0.781 0.785 0.789 0.794 0.798 0.803 0.775 0.733 0.691 0.649 0.607 0.563 0.519 0.475 0.431 0.386 0.342 0.300 0.258 0.215 0.173 0.131 0.100 0.074 0.047 0.021 0.000 0.000 0.000 0.000"/><feFuncB type="table" tableValues="0.431 0.489 0.546 0.604 0.661 0.719 0.746 0.769 0.792 0.815 0.838 0.846 0.850 0.854 0.858 0.861 0.860 0.856 0.853 0.849 0.845 0.833 0.812 0.792 0.771 0.727 0.670 0.614 0.558 0.508 0.459 0.410 0.361 0.323 0.285 0.247 0.211 0.180 0.150 0.119 0.088 0.073 0.066 0.058 0.050 0.043 0.039 0.039 0.039 0.039 0.039 0.039 0.036 0.032 0.028 0.025 0.021 0.017 0.012 0.008 0.004 0.000 0.000 0.000 0.000"/></feComponentTransfer></filter></defs><path d="M57.6 -1 V60.6 H280.2 V-1" fill="none" stroke="#5a5a5a" stroke-width="1.1"/><path d="M58 12.4 h2" stroke="#5a5a5a" stroke-width="0.6"/><path d="M58 28.6 h2" stroke="#5a5a5a" stroke-width="0.6"/><path d="M58 44.8 h2" stroke="#5a5a5a" stroke-width="0.6"/><path d="M132.0 60 v-2" stroke="#5a5a5a" stroke-width="0.6"/><path d="M206.2 60 v-2" stroke="#5a5a5a" stroke-width="0.6"/><path d="M58.5 35.7 H279.5" stroke="#c8c8c8" stroke-width="0.8" stroke-dasharray="1.6 1.6"/><path d="M58.20 24.81 L58.70 24.02 L59.20 23.25 L59.70 22.50 L60.20 21.76 L60.70 21.04 L61.20 20.34 L61.70 19.66 L62.20 19.01 L62.70 18.37 L63.20 17.76 L63.70 17.17 L64.20 16.61 L64.70 16.07 L65.20 15.57 L65.70 15.09 L66.20 14.65 L66.70 14.23 L67.20 13.85 L67.70 13.50 L68.20 13.19 L68.70 12.92 L69.20 12.68 L69.70 12.48 L70.20 12.32 L70.70 12.21 L71.20 12.13 L71.70 12.10 L72.20 12.12 L72.70 12.19 L73.20 12.32 L73.70 12.50 L74.20 12.73 L74.70 13.01 L75.20 13.34 L75.70 13.71 L76.20 14.13 L76.70 14.59 L77.20 15.09 L77.70 15.63 L78.20 16.21 L78.70 16.82 L79.20 17.47 L79.70 18.15 L80.20 18.86 L80.70 19.60 L81.20 20.37 L81.70 21.16 L82.20 21.98 L82.70 22.82 L83.20 23.67 L83.70 24.55 L84.20 25.45 L84.70 26.36 L85.20 27.28 L85.70 28.22 L86.20 29.17 L86.70 30.13 L87.20 31.09 L87.70 32.06 L88.20 33.03 L88.70 34.01 L89.20 34.98 L89.70 35.95 L90.20 36.92 L90.70 37.89 L91.20 38.85 L91.70 39.80 L92.20 40.74 L92.70 41.67 L93.20 42.59 L93.70 43.49 L94.20 44.38 L94.70 45.24 L95.20 46.09 L95.70 46.92 L96.20 47.72 L96.70 48.50 L97.20 49.25 L97.70 49.97 L98.20 50.66 L98.70 51.32 L99.20 51.95 L99.70 52.54 L100.20 53.10 L100.70 53.61 L101.20 54.09 L101.70 54.53 L102.20 54.92 L102.70 55.26 L103.20 55.56 L103.70 55.81 L104.20 56.02 L104.70 56.16 L105.20 56.26 L105.70 56.30 L106.20 56.29 L106.70 56.23 L107.20 56.13 L107.70 55.99 L108.20 55.80 L108.70 55.58 L109.20 55.32 L109.70 55.02 L110.20 54.69 L110.70 54.32 L111.20 53.92 L111.70 53.49 L112.20 53.03 L112.70 52.53 L113.20 52.01 L113.70 51.46 L114.20 50.88 L114.70 50.28 L115.20 49.65 L115.70 49.00 L116.20 48.33 L116.70 47.64 L117.20 46.93 L117.70 46.20 L118.20 45.45 L118.70 44.69 L119.20 43.91 L119.70 43.12 L120.20 42.31 L120.70 41.50 L121.20 40.68 L121.70 39.84 L122.20 39.00 L122.70 38.15 L123.20 37.30 L123.70 36.44 L124.20 35.58 L124.70 34.72 L125.20 33.85 L125.70 32.99 L126.20 32.13 L126.70 31.27 L127.20 30.42 L127.70 29.57 L128.20 28.73 L128.70 27.89 L129.20 27.06 L129.70 26.25 L130.20 25.44 L130.70 24.65 L131.20 23.87 L131.70 23.10 L132.20 22.35 L132.70 21.62 L133.20 20.90 L133.70 20.21 L134.20 19.53 L134.70 18.88 L135.20 18.25 L135.70 17.64 L136.20 17.06 L136.70 16.50 L137.20 15.97 L137.70 15.47 L138.20 15.00 L138.70 14.56 L139.20 14.15 L139.70 13.78 L140.20 13.44 L140.70 13.13 L141.20 12.87 L141.70 12.64 L142.20 12.45 L142.70 12.30 L143.20 12.19 L143.70 12.12 L144.20 12.10 L144.70 12.13 L145.20 12.21 L145.70 12.35 L146.20 12.54 L146.70 12.78 L147.20 13.07 L147.70 13.41 L148.20 13.79 L148.70 14.22 L149.20 14.69 L149.70 15.20 L150.20 15.74 L150.70 16.33 L151.20 16.95 L151.70 17.60 L152.20 18.29 L152.70 19.01 L153.20 19.75 L153.70 20.52 L154.20 21.32 L154.70 22.14 L155.20 22.99 L155.70 23.85 L156.20 24.73 L156.70 25.63 L157.20 26.54 L157.70 27.47 L158.20 28.41 L158.70 29.36 L159.20 30.32 L159.70 31.28 L160.20 32.25 L160.70 33.23 L161.20 34.20 L161.70 35.17 L162.20 36.15 L162.70 37.12 L163.20 38.08 L163.70 39.04 L164.20 39.99 L164.70 40.93 L165.20 41.86 L165.70 42.77 L166.20 43.67 L166.70 44.55 L167.20 45.41 L167.70 46.26 L168.20 47.08 L168.70 47.88 L169.20 48.65 L169.70 49.39 L170.20 50.11 L170.70 50.80 L171.20 51.45 L171.70 52.07 L172.20 52.66 L172.70 53.20 L173.20 53.71 L173.70 54.18 L174.20 54.61 L174.70 54.99 L175.20 55.33 L175.70 55.62 L176.20 55.86 L176.70 56.05 L177.20 56.19 L177.70 56.27 L178.20 56.30 L178.70 56.28 L179.20 56.21 L179.70 56.10 L180.20 55.95 L180.70 55.76 L181.20 55.53 L181.70 55.27 L182.20 54.96 L182.70 54.62 L183.20 54.25 L183.70 53.84 L184.20 53.40 L184.70 52.93 L185.20 52.43 L185.70 51.90 L186.20 51.34 L186.70 50.76 L187.20 50.15 L187.70 49.52 L188.20 48.87 L188.70 48.19 L189.20 47.50 L189.70 46.78 L190.20 46.05 L190.70 45.30 L191.20 44.53 L191.70 43.75 L192.20 42.96 L192.70 42.15 L193.20 41.34 L193.70 40.51 L194.20 39.67 L194.70 38.83 L195.20 37.98 L195.70 37.13 L196.20 36.27 L196.70 35.41 L197.20 34.55 L197.70 33.68 L198.20 32.82 L198.70 31.96 L199.20 31.10 L199.70 30.25 L200.20 29.40 L200.70 28.56 L201.20 27.72 L201.70 26.90 L202.20 26.09 L202.70 25.28 L203.20 24.49 L203.70 23.71 L204.20 22.95 L204.70 22.20 L205.20 21.47 L205.70 20.76 L206.20 20.07 L206.70 19.40 L207.20 18.75 L207.70 18.12 L208.20 17.52 L208.70 16.94 L209.20 16.39 L209.70 15.87 L210.20 15.37 L210.70 14.91 L211.20 14.48 L211.70 14.08 L212.20 13.71 L212.70 13.38 L213.20 13.08 L213.70 12.82 L214.20 12.60 L214.70 12.41 L215.20 12.27 L215.70 12.17 L216.20 12.11 L216.70 12.10 L217.20 12.14 L217.70 12.24 L218.20 12.38 L218.70 12.59 L219.20 12.84 L219.70 13.14 L220.20 13.48 L220.70 13.87 L221.20 14.31 L221.70 14.79 L222.20 15.30 L222.70 15.86 L223.20 16.45 L223.70 17.08 L224.20 17.74 L224.70 18.43 L225.20 19.15 L225.70 19.90 L226.20 20.68 L226.70 21.48 L227.20 22.31 L227.70 23.16 L228.20 24.02 L228.70 24.91 L229.20 25.81 L229.70 26.73 L230.20 27.66 L230.70 28.60 L231.20 29.55 L231.70 30.51 L232.20 31.48 L232.70 32.45 L233.20 33.42 L233.70 34.39 L234.20 35.37 L234.70 36.34 L235.20 37.31 L235.70 38.27 L236.20 39.23 L236.70 40.18 L237.20 41.12 L237.70 42.04 L238.20 42.95 L238.70 43.85 L239.20 44.73 L239.70 45.58 L240.20 46.42 L240.70 47.24 L241.20 48.03 L241.70 48.80 L242.20 49.54 L242.70 50.25 L243.20 50.93 L243.70 51.58 L244.20 52.19 L244.70 52.77 L245.20 53.31 L245.70 53.81 L246.20 54.27 L246.70 54.69 L247.20 55.06 L247.70 55.39 L248.20 55.67 L248.70 55.90 L249.20 56.08 L249.70 56.21 L250.20 56.28 L250.70 56.30 L251.20 56.27 L251.70 56.19 L252.20 56.08 L252.70 55.92 L253.20 55.72 L253.70 55.48 L254.20 55.21 L254.70 54.90 L255.20 54.55 L255.70 54.17 L256.20 53.75 L256.70 53.31 L257.20 52.83 L257.70 52.33 L258.20 51.79 L258.70 51.23 L259.20 50.64 L259.70 50.03 L260.20 49.39 L260.70 48.74 L261.20 48.06 L261.70 47.36 L262.20 46.64 L262.70 45.90 L263.20 45.15 L263.70 44.38 L264.20 43.59 L264.70 42.80 L265.20 41.99 L265.70 41.17 L266.20 40.34 L266.70 39.51 L267.20 38.66 L267.70 37.81 L268.20 36.96 L268.70 36.10 L269.20 35.24 L269.70 34.37 L270.20 33.51 L270.70 32.65 L271.20 31.79 L271.70 30.93 L272.20 30.08 L272.70 29.23 L273.20 28.39 L273.70 27.56 L274.20 26.74 L274.70 25.92 L275.20 25.12 L275.70 24.33 L276.20 23.56 L276.70 22.80 L277.20 22.06 L277.70 21.33 L278.20 20.62 L278.70 19.93 L279.20 19.27" fill="none" stroke="#cb8cef" stroke-width="1.15"/><path d="M58.20 20.72 L58.70 19.93 L59.20 19.03 L59.70 18.07 L60.20 17.05 L60.70 16.02 L61.20 15.00 L61.70 14.02 L62.20 13.10 L62.70 12.29 L63.20 11.60 L63.70 10.96 L64.20 10.31 L64.70 9.67 L65.20 9.07 L65.70 8.53 L66.20 8.09 L66.70 7.78 L67.20 7.62 L67.70 7.65 L68.20 7.91 L68.70 8.40 L69.20 9.09 L69.70 9.96 L70.20 10.99 L70.70 12.16 L71.20 13.45 L71.70 14.84 L72.20 16.30 L72.70 17.83 L73.20 19.39 L73.70 20.97 L74.20 22.54 L74.70 24.09 L75.20 25.59 L75.70 27.03 L76.20 28.38 L76.70 29.62 L77.20 30.74 L77.70 31.71 L78.20 32.51 L78.70 33.12 L79.20 33.52 L79.70 33.69 L80.20 33.67 L80.70 33.55 L81.20 33.36 L81.70 33.09 L82.20 32.75 L82.70 32.36 L83.20 31.92 L83.70 31.44 L84.20 30.93 L84.70 30.40 L85.20 29.85 L85.70 29.29 L86.20 28.74 L86.70 28.19 L87.20 27.66 L87.70 27.16 L88.20 26.69 L88.70 26.26 L89.20 25.88 L89.70 25.55 L90.20 25.30 L90.70 25.12 L91.20 25.02 L91.70 25.01 L92.20 25.09 L92.70 25.25 L93.20 25.49 L93.70 25.80 L94.20 26.18 L94.70 26.63 L95.20 27.13 L95.70 27.69 L96.20 28.31 L96.70 28.96 L97.20 29.66 L97.70 30.40 L98.20 31.17 L98.70 31.97 L99.20 32.79 L99.70 33.63 L100.20 34.48 L100.70 35.34 L101.20 36.21 L101.70 37.08 L102.20 37.95 L102.70 38.80 L103.20 39.64 L103.70 40.47 L104.20 41.27 L104.70 42.05 L105.20 42.79 L105.70 43.50 L106.20 44.17 L106.70 44.79 L107.20 45.36 L107.70 45.88 L108.20 46.34 L108.70 46.73 L109.20 47.06 L109.70 47.31 L110.20 47.49 L110.70 47.58 L111.20 47.59 L111.70 47.49 L112.20 47.28 L112.70 46.96 L113.20 46.56 L113.70 46.06 L114.20 45.49 L114.70 44.84 L115.20 44.12 L115.70 43.35 L116.20 42.52 L116.70 41.64 L117.20 40.73 L117.70 39.79 L118.20 38.82 L118.70 37.83 L119.20 36.83 L119.70 35.83 L120.20 34.83 L120.70 33.84 L121.20 32.87 L121.70 31.92 L122.20 31.01 L122.70 30.13 L123.20 29.29 L123.70 28.51 L124.20 27.78 L124.70 27.12 L125.20 26.53 L125.70 25.98 L126.20 25.46 L126.70 24.96 L127.20 24.48 L127.70 23.99 L128.20 23.51 L128.70 23.00 L129.20 22.46 L129.70 21.89 L130.20 21.27 L130.70 20.57 L131.20 19.76 L131.70 18.85 L132.20 17.86 L132.70 16.84 L133.20 15.81 L133.70 14.80 L134.20 13.83 L134.70 12.93 L135.20 12.14 L135.70 11.48 L136.20 10.83 L136.70 10.18 L137.20 9.54 L137.70 8.95 L138.20 8.43 L138.70 8.02 L139.20 7.73 L139.70 7.60 L140.20 7.68 L140.70 7.99 L141.20 8.52 L141.70 9.25 L142.20 10.15 L142.70 11.21 L143.20 12.41 L143.70 13.72 L144.20 15.13 L144.70 16.61 L145.20 18.14 L145.70 19.70 L146.20 21.28 L146.70 22.85 L147.20 24.39 L147.70 25.88 L148.20 27.30 L148.70 28.64 L149.20 29.86 L149.70 30.95 L150.20 31.88 L150.70 32.65 L151.20 33.22 L151.70 33.58 L152.20 33.70 L152.70 33.65 L153.20 33.52 L153.70 33.31 L154.20 33.02 L154.70 32.68 L155.20 32.28 L155.70 31.83 L156.20 31.34 L156.70 30.83 L157.20 30.29 L157.70 29.74 L158.20 29.18 L158.70 28.63 L159.20 28.08 L159.70 27.56 L160.20 27.06 L160.70 26.60 L161.20 26.18 L161.70 25.81 L162.20 25.50 L162.70 25.26 L163.20 25.09 L163.70 25.01 L164.20 25.02 L164.70 25.11 L165.20 25.29 L165.70 25.54 L166.20 25.87 L166.70 26.26 L167.20 26.72 L167.70 27.24 L168.20 27.81 L168.70 28.43 L169.20 29.10 L169.70 29.81 L170.20 30.55 L170.70 31.33 L171.20 32.13 L171.70 32.96 L172.20 33.80 L172.70 34.65 L173.20 35.52 L173.70 36.39 L174.20 37.26 L174.70 38.12 L175.20 38.97 L175.70 39.81 L176.20 40.63 L176.70 41.43 L177.20 42.20 L177.70 42.94 L178.20 43.64 L178.70 44.29 L179.20 44.91 L179.70 45.47 L180.20 45.97 L180.70 46.42 L181.20 46.80 L181.70 47.11 L182.20 47.35 L182.70 47.51 L183.20 47.59 L183.70 47.58 L184.20 47.45 L184.70 47.22 L185.20 46.89 L185.70 46.46 L186.20 45.95 L186.70 45.36 L187.20 44.70 L187.70 43.97 L188.20 43.18 L188.70 42.35 L189.20 41.47 L189.70 40.55 L190.20 39.60 L190.70 38.62 L191.20 37.63 L191.70 36.63 L192.20 35.63 L192.70 34.63 L193.20 33.65 L193.70 32.68 L194.20 31.74 L194.70 30.83 L195.20 29.96 L195.70 29.13 L196.20 28.36 L196.70 27.65 L197.20 27.00 L197.70 26.41 L198.20 25.87 L198.70 25.36 L199.20 24.86 L199.70 24.38 L200.20 23.90 L200.70 23.41 L201.20 22.89 L201.70 22.35 L202.20 21.77 L202.70 21.13 L203.20 20.42 L203.70 19.58 L204.20 18.65 L204.70 17.66 L205.20 16.64 L205.70 15.61 L206.20 14.60 L206.70 13.64 L207.20 12.77 L207.70 12.00 L208.20 11.35 L208.70 10.70 L209.20 10.05 L209.70 9.42 L210.20 8.84 L210.70 8.34 L211.20 7.95 L211.70 7.69 L212.20 7.60 L212.70 7.72 L213.20 8.08 L213.70 8.65 L214.20 9.42 L214.70 10.35 L215.20 11.44 L215.70 12.66 L216.20 14.00 L216.70 15.42 L217.20 16.91 L217.70 18.45 L218.20 20.02 L218.70 21.60 L219.20 23.16 L219.70 24.69 L220.20 26.17 L220.70 27.58 L221.20 28.89 L221.70 30.09 L222.20 31.15 L222.70 32.05 L223.20 32.78 L223.70 33.31 L224.20 33.62 L224.70 33.70 L225.20 33.63 L225.70 33.48 L226.20 33.26 L226.70 32.96 L227.20 32.60 L227.70 32.19 L228.20 31.74 L228.70 31.24 L229.20 30.72 L229.70 30.18 L230.20 29.63 L230.70 29.07 L231.20 28.52 L231.70 27.98 L232.20 27.46 L232.70 26.96 L233.20 26.51 L233.70 26.10 L234.20 25.74 L234.70 25.44 L235.20 25.22 L235.70 25.07 L236.20 25.00 L236.70 25.03 L237.20 25.14 L237.70 25.33 L238.20 25.60 L238.70 25.94 L239.20 26.35 L239.70 26.82 L240.20 27.35 L240.70 27.93 L241.20 28.56 L241.70 29.24 L242.20 29.95 L242.70 30.71 L243.20 31.49 L243.70 32.29 L244.20 33.12 L244.70 33.97 L245.20 34.83 L245.70 35.69 L246.20 36.56 L246.70 37.43 L247.20 38.29 L247.70 39.14 L248.20 39.98 L248.70 40.79 L249.20 41.59 L249.70 42.35 L250.20 43.08 L250.70 43.77 L251.20 44.42 L251.70 45.02 L252.20 45.57 L252.70 46.07 L253.20 46.50 L253.70 46.87 L254.20 47.17 L254.70 47.39 L255.20 47.54 L255.70 47.60 L256.20 47.56 L256.70 47.42 L257.20 47.16 L257.70 46.81 L258.20 46.37 L258.70 45.84 L259.20 45.23 L259.70 44.56 L260.20 43.82 L260.70 43.02 L261.20 42.17 L261.70 41.28 L262.20 40.36 L262.70 39.40 L263.20 38.43 L263.70 37.43 L264.20 36.43 L264.70 35.43 L265.20 34.44 L265.70 33.45 L266.20 32.49 L266.70 31.55 L267.20 30.65 L267.70 29.79 L268.20 28.97 L268.70 28.21 L269.20 27.51 L269.70 26.88 L270.20 26.30 L270.70 25.76 L271.20 25.26 L271.70 24.77 L272.20 24.28 L272.70 23.80 L273.20 23.30 L273.70 22.79 L274.20 22.24 L274.70 21.65 L275.20 21.00 L275.70 20.26 L276.20 19.40 L276.70 18.46 L277.20 17.46 L277.70 16.43 L278.20 15.40 L278.70 14.40 L279.20 13.46" fill="none" stroke="#7bd6bd" stroke-width="1.15"/><path d="M81.2 2.4 H102.2" stroke="#cb8cef" stroke-width="1.15"/><path d="M126.3 2.4 H147.6" stroke="#7bd6bd" stroke-width="1.15"/><text x="63.00" y="4.50" font-size="8.00" text-anchor="start" fill="#151515" textLength="14" lengthAdjust="spacingAndGlyphs" stroke="#151515" stroke-width="0.15">Y/D</text><text x="113.60" y="4.60" font-size="7.20" text-anchor="start" fill="#151515">C</text><text x="118.90" y="5.80" font-size="4.80" text-anchor="start" fill="#151515">l</text><text x="51.40" y="14.90" font-size="6.90" text-anchor="end" fill="#151515" stroke="#151515" stroke-width="0.15">1.2</text><text x="51.40" y="31.10" font-size="6.90" text-anchor="end" fill="#151515" stroke="#151515" stroke-width="0.15">0.4</text><text x="51.40" y="47.30" font-size="6.90" text-anchor="end" fill="#151515" stroke="#151515" stroke-width="0.15">-0.4</text><text x="51.40" y="63.50" font-size="6.90" text-anchor="end" fill="#151515" stroke="#151515" stroke-width="0.15">-1.2</text><text x="57.80" y="70.90" font-size="7.00" text-anchor="middle" fill="#151515" stroke="#151515" stroke-width="0.15">400</text><text x="132.00" y="70.90" font-size="7.00" text-anchor="middle" fill="#151515" stroke="#151515" stroke-width="0.15">410</text><text x="206.20" y="70.90" font-size="7.00" text-anchor="middle" fill="#151515" stroke="#151515" stroke-width="0.15">420</text><text x="280.40" y="70.90" font-size="7.00" text-anchor="middle" fill="#151515" stroke="#151515" stroke-width="0.15">430</text><text x="169.20" y="83.00" font-size="7.00" text-anchor="middle" fill="#151515" stroke="#151515" stroke-width="0.15">tU/D</text><text transform="translate(30.6 30) rotate(-90)" font-size="7" text-anchor="middle" fill="#151515" stroke="#151515" stroke-width="0.15">Y/D, C<tspan font-size="4.6" dy="1.5" dx="0.8">l</tspan></text><path d="M338.1 -1 V62.8 H408 V-1" fill="none" stroke="#5a5a5a" stroke-width="1.1"/><path d="M338.5 17.0 h2" stroke="#5a5a5a" stroke-width="0.6"/><path d="M338.5 40.2 h2" stroke="#5a5a5a" stroke-width="0.6"/><path d="M373 62.3 v-2" stroke="#5a5a5a" stroke-width="0.6"/><path d="M340.30 -0.60 C341.37 -0.05 345.38 2.72 348.00 4.30 C350.62 5.88 353.33 7.37 356.00 8.90 C358.67 10.43 361.33 11.97 364.00 13.50 C366.67 15.03 369.75 16.73 372.00 18.10 C374.25 19.47 376.03 20.58 377.50 21.70 C378.97 22.82 380.08 23.68 380.80 24.80 C381.52 25.92 381.87 27.10 381.80 28.40 C381.73 29.70 381.28 31.12 380.40 32.60 C379.52 34.08 377.93 35.67 376.50 37.30 C375.07 38.93 373.55 40.52 371.80 42.40 C370.05 44.28 367.82 46.67 366.00 48.60 C364.18 50.53 362.30 52.67 360.90 54.00 C359.50 55.33 358.58 56.17 357.60 56.60 C356.62 57.03 356.05 57.13 355.00 56.60 C353.95 56.07 352.42 54.63 351.30 53.40 C350.18 52.17 349.08 50.83 348.30 49.20 C347.52 47.57 346.88 45.43 346.60 43.60 C346.32 41.77 346.37 39.87 346.60 38.20 C346.83 36.53 347.37 35.03 348.00 33.60 C348.63 32.17 349.50 30.77 350.40 29.60 C351.30 28.43 352.30 27.40 353.40 26.60 C354.50 25.80 355.73 25.23 357.00 24.80 C358.27 24.37 359.50 24.17 361.00 24.00 C362.50 23.83 364.20 23.80 366.00 23.80 C367.80 23.80 369.97 23.87 371.80 24.00 C373.63 24.13 375.42 24.33 377.00 24.60 C378.58 24.87 379.63 25.22 381.30 25.60 C382.97 25.98 385.07 26.43 387.00 26.90 C388.93 27.37 391.07 27.87 392.90 28.40 C394.73 28.93 396.45 29.50 398.00 30.10 C399.55 30.70 401.23 31.35 402.20 32.00 C403.17 32.65 403.75 33.38 403.80 34.00 C403.85 34.62 403.08 35.32 402.50 35.70 C401.92 36.08 401.55 36.15 400.30 36.30 C399.05 36.45 396.88 36.63 395.00 36.60 C393.12 36.57 390.92 36.37 389.00 36.10 C387.08 35.83 385.18 35.47 383.50 35.00 C381.82 34.53 380.48 34.00 378.90 33.30 C377.32 32.60 375.55 31.65 374.00 30.80 C372.45 29.95 371.07 29.02 369.60 28.20 C368.13 27.38 366.60 26.67 365.20 25.90 C363.80 25.13 362.47 24.53 361.20 23.60 C359.93 22.67 358.87 21.63 357.60 20.30 C356.33 18.97 355.00 17.27 353.60 15.60 C352.20 13.93 350.67 12.08 349.20 10.30 C347.73 8.52 346.07 6.45 344.80 4.90 C343.53 3.35 342.35 1.92 341.60 1.00 C340.85 0.08 339.23 -1.15 340.30 -0.60Z" fill="none" stroke="#cb8cef" stroke-width="1.05"/><text x="333.40" y="19.40" font-size="6.60" text-anchor="end" fill="#151515" stroke="#151515" stroke-width="0.15">0.8</text><text x="333.40" y="42.60" font-size="6.60" text-anchor="end" fill="#151515" stroke="#151515" stroke-width="0.15">0.0</text><text x="333.40" y="65.70" font-size="6.60" text-anchor="end" fill="#151515" stroke="#151515" stroke-width="0.15">-0.8</text><text x="338.40" y="72.60" font-size="6.60" text-anchor="middle" fill="#151515" stroke="#151515" stroke-width="0.15">1.8</text><text x="373.00" y="72.60" font-size="6.60" text-anchor="middle" fill="#151515" stroke="#151515" stroke-width="0.15">2.6</text><text x="407.90" y="72.60" font-size="6.60" text-anchor="middle" fill="#151515" stroke="#151515" stroke-width="0.15">3.4</text><text x="369.20" y="81.60" font-size="7.20" text-anchor="start" fill="#151515">C</text><text x="374.30" y="83.40" font-size="4.80" text-anchor="start" fill="#151515">d</text><text transform="translate(313.6 28.2) rotate(-90)" font-size="7.2" text-anchor="middle" fill="#151515">C<tspan font-size="4.8" dy="1.6" dx="0.5">l</tspan></text><g filter="url(#jet0)"><rect x="-4.00" y="95.60" width="154.60" height="53.20" fill="#000"/><g><path d="M3.90 124.60 C4.37 124.43 5.68 124.77 6.70 124.80 C7.72 124.83 8.98 124.73 10.00 124.80 C11.02 124.87 11.97 124.90 12.80 125.20 C13.63 125.50 14.53 126.08 15.00 126.60 C15.47 127.12 15.70 127.77 15.60 128.30 C15.50 128.83 14.97 129.42 14.40 129.80 C13.83 130.18 13.03 130.52 12.20 130.60 C11.37 130.68 10.32 130.58 9.40 130.30 C8.48 130.02 7.43 129.42 6.70 128.90 C5.97 128.38 5.47 127.72 5.00 127.20 C4.53 126.68 4.08 126.23 3.90 125.80 C3.72 125.37 3.43 124.77 3.90 124.60Z" fill="#f00" opacity="1.00" filter="url(#f0)"/><path d="M28.6 107.4 C24.8 111 23.4 117 24 123 S26.8 130.5 29.6 133.2" fill="none" stroke="#f00" stroke-width="4.20" stroke-linecap="round" stroke-linejoin="round" opacity="1.00" filter="url(#f2)"/><path d="M27.5 106 C21.5 111 20.5 120 22 126 S24.5 133 27 135" fill="none" stroke="#f00" stroke-width="5.40" stroke-linecap="round" stroke-linejoin="round" opacity="0.45" filter="url(#f3)"/><ellipse cx="30.80" cy="126.80" rx="4.59" ry="7.90" fill="url(#gp0)"/><ellipse cx="40.30" cy="124.90" rx="9.94" ry="5.10" fill="url(#gp0)" transform="rotate(-12.0 40.30 124.90)"/><path d="M63.50 121.00 L76.70 124.89 A4.60 4.60 0 1 1 71.71 132.04 Z" fill="#f00" opacity="0.85" filter="url(#f4)"/><ellipse cx="75.40" cy="129.30" rx="13.94" ry="9.58" fill="url(#gp3)" transform="rotate(28.0 75.40 129.30)"/><ellipse cx="114.00" cy="129.80" rx="24.35" ry="9.74" fill="url(#gp5)" transform="rotate(3.0 114.00 129.80)"/><ellipse cx="103.50" cy="125.50" rx="12.47" ry="8.32" fill="url(#gp6)" transform="rotate(25.0 103.50 125.50)"/><ellipse cx="153.00" cy="131.00" rx="23.39" ry="11.69" fill="url(#gp8)"/></g><g style="mix-blend-mode:screen"><path d="M2.20 118.30 C2.35 117.47 2.73 117.43 3.30 117.20 C3.87 116.97 4.85 116.83 5.60 116.90 C6.35 116.97 6.88 117.18 7.80 117.60 C8.72 118.02 10.00 118.82 11.10 119.40 C12.20 119.98 13.28 120.35 14.40 121.10 C15.52 121.85 16.77 122.97 17.80 123.90 C18.83 124.83 19.77 125.78 20.60 126.70 C21.43 127.62 22.17 128.57 22.80 129.40 C23.43 130.23 24.03 131.05 24.40 131.70 C24.77 132.35 25.08 132.93 25.00 133.30 C24.92 133.67 24.37 133.98 23.90 133.90 C23.43 133.82 22.85 133.35 22.20 132.80 C21.55 132.25 20.73 131.35 20.00 130.60 C19.27 129.85 18.53 129.05 17.80 128.30 C17.07 127.55 16.43 126.70 15.60 126.10 C14.77 125.50 13.73 125.02 12.80 124.70 C11.87 124.38 11.02 124.28 10.00 124.20 C8.98 124.12 7.72 124.25 6.70 124.20 C5.68 124.15 4.62 124.23 3.90 123.90 C3.18 123.57 2.68 123.13 2.40 122.20 C2.12 121.27 2.05 119.13 2.20 118.30Z" fill="#00f" opacity="1.00" filter="url(#f0)"/><path d="M15.5 123.0 S21 129 23.8 133.0" fill="none" stroke="#00f" stroke-width="6.00" stroke-linecap="round" stroke-linejoin="round" opacity="0.30" filter="url(#f1)"/><ellipse cx="35.60" cy="111.60" rx="11.47" ry="10.20" fill="url(#gn1)"/><path d="M45 106 C49.5 112 54 120 61 127 S74 138 83 141.5" fill="none" stroke="#00f" stroke-width="3.20" stroke-linecap="round" stroke-linejoin="round" opacity="0.48" filter="url(#f1)"/><ellipse cx="72.70" cy="111.90" rx="16.82" ry="9.69" fill="url(#gn2)"/><ellipse cx="108.90" cy="111.90" rx="16.65" ry="12.02" fill="url(#gn4)"/><ellipse cx="151.50" cy="112.00" rx="17.07" ry="13.65" fill="url(#gn7)"/></g></g><rect x="0.35" y="99.95" width="145.90" height="44.50" fill="none" stroke="#4fae3f" stroke-width="0.7" opacity="0.8"/><polygon points="3.6,118.8 4.2,123.6 8.3,121.2" fill="#fff"/><g filter="url(#jet1)"><rect x="148.00" y="95.60" width="153.10" height="53.20" fill="#000"/><g><path d="M156.80 118.60 C157.68 118.47 159.95 119.28 161.30 119.60 C162.65 119.92 163.85 120.17 164.90 120.50 C165.95 120.83 166.77 121.13 167.60 121.60 C168.43 122.07 169.08 122.60 169.90 123.30 C170.72 124.00 171.72 124.95 172.50 125.80 C173.28 126.65 174.42 127.80 174.60 128.40 C174.78 129.00 174.53 129.30 173.60 129.40 C172.67 129.50 170.52 129.33 169.00 129.00 C167.48 128.67 166.00 128.03 164.50 127.40 C163.00 126.77 161.22 126.00 160.00 125.20 C158.78 124.40 157.87 123.40 157.20 122.60 C156.53 121.80 156.07 121.07 156.00 120.40 C155.93 119.73 155.92 118.73 156.80 118.60Z" fill="#f00" opacity="1.00" filter="url(#f5)"/><path d="M190 104 C185.5 106.5 183 111 182.8 117.5 S183.5 124.5 185.5 127.5" fill="none" stroke="#f00" stroke-width="2.80" stroke-linecap="round" stroke-linejoin="round" opacity="1.00" filter="url(#f7)"/><path d="M189 102.5 C183 105.5 181 112 181 118 S182 126 184 129" fill="none" stroke="#f00" stroke-width="4.00" stroke-linecap="round" stroke-linejoin="round" opacity="0.35" filter="url(#f3)"/><ellipse cx="189.50" cy="128.60" rx="8.41" ry="5.86" fill="url(#gp0)"/><ellipse cx="198.30" cy="123.40" rx="10.71" ry="5.10" fill="url(#gp0)" transform="rotate(-8.0 198.30 123.40)"/><path d="M220.00 119.60 L235.79 124.62 A4.60 4.60 0 1 1 230.95 132.04 Z" fill="#f00" opacity="0.85" filter="url(#f4)"/><ellipse cx="234.40" cy="129.00" rx="13.65" ry="9.87" fill="url(#gp3)" transform="rotate(20.0 234.40 129.00)"/><ellipse cx="273.50" cy="129.00" rx="22.61" ry="9.67" fill="url(#gp12)" transform="rotate(2.0 273.50 129.00)"/><ellipse cx="259.00" cy="121.00" rx="12.99" ry="9.74" fill="url(#gp13)" transform="rotate(35.0 259.00 121.00)"/></g><g style="mix-blend-mode:screen"><path d="M154.60 113.30 C154.72 112.52 155.08 111.83 155.60 111.40 C156.12 110.97 156.87 110.75 157.70 110.70 C158.53 110.65 159.65 110.78 160.60 111.10 C161.55 111.42 162.45 112.07 163.40 112.60 C164.35 113.13 165.58 113.58 166.30 114.30 C167.02 115.02 167.27 116.18 167.70 116.90 C168.13 117.62 168.27 118.07 168.90 118.60 C169.53 119.13 170.50 119.43 171.50 120.10 C172.50 120.77 173.75 121.47 174.90 122.60 C176.05 123.73 177.22 125.35 178.40 126.90 C179.58 128.45 180.80 130.60 182.00 131.90 C183.20 133.20 184.88 134.00 185.60 134.70 C186.32 135.40 186.55 135.78 186.30 136.10 C186.05 136.42 185.05 136.95 184.10 136.60 C183.15 136.25 181.78 135.15 180.60 134.00 C179.42 132.85 178.20 131.13 177.00 129.70 C175.80 128.27 174.53 126.55 173.40 125.40 C172.27 124.25 171.27 123.58 170.20 122.80 C169.13 122.02 168.02 121.23 167.00 120.70 C165.98 120.17 165.05 119.88 164.10 119.60 C163.15 119.32 162.25 119.22 161.30 119.00 C160.35 118.78 159.23 118.53 158.40 118.30 C157.57 118.07 156.88 117.97 156.30 117.60 C155.72 117.23 155.18 116.82 154.90 116.10 C154.62 115.38 154.48 114.08 154.60 113.30Z" fill="#00f" opacity="1.00" filter="url(#f5)"/><path d="M168 119.5 C171 121.5 174 123.8 177 127.5 S182 133.5 186 136" fill="none" stroke="#00f" stroke-width="6.00" stroke-linecap="round" stroke-linejoin="round" opacity="0.35" filter="url(#f6)"/><ellipse cx="194.00" cy="111.10" rx="12.26" ry="10.17" fill="url(#gn9)"/><path d="M205 106 C209 110 212 117 214.5 124 S220.5 134.5 230 139" fill="none" stroke="#00f" stroke-width="3.80" stroke-linecap="round" stroke-linejoin="round" opacity="0.26" filter="url(#f8)"/><ellipse cx="230.40" cy="111.10" rx="16.24" ry="10.64" fill="url(#gn10)"/><ellipse cx="268.70" cy="111.50" rx="16.06" ry="12.47" fill="url(#gn11)"/></g></g><rect x="152.35" y="99.95" width="144.40" height="44.50" fill="none" stroke="#4fae3f" stroke-width="0.7" opacity="0.8"/><polygon points="155.0,113.3 155.5,118.4 159.3,115.8" fill="#fff"/><g filter="url(#jet2)"><rect x="299.70" y="95.60" width="151.10" height="53.20" fill="#000"/><g><path d="M309.80 116.40 C310.22 115.67 311.12 115.28 312.00 115.00 C312.88 114.72 314.13 114.60 315.10 114.70 C316.07 114.80 317.08 115.15 317.80 115.60 C318.52 116.05 319.03 116.73 319.40 117.40 C319.77 118.07 320.15 118.97 320.00 119.60 C319.85 120.23 319.33 120.87 318.50 121.20 C317.67 121.53 316.17 121.63 315.00 121.60 C313.83 121.57 312.42 121.37 311.50 121.00 C310.58 120.63 309.78 120.17 309.50 119.40 C309.22 118.63 309.38 117.13 309.80 116.40Z" fill="#f00" opacity="1.00" filter="url(#f9)"/><ellipse cx="323.80" cy="124.60" rx="11.22" ry="6.37" fill="url(#gp0)" transform="rotate(10.0 323.80 124.60)"/><path d="M313.5 119.8 C316.5 121 319.5 122.5 322.5 123.8" fill="none" stroke="#f00" stroke-width="4.20" stroke-linecap="round" stroke-linejoin="round" opacity="1.00" filter="url(#f9)"/><path d="M344.3 106.4 C341.5 108.5 340.2 111.5 340.3 114.5 S340.8 121.5 341.5 124 S342.5 127 343.5 128" fill="none" stroke="#f00" stroke-width="2.80" stroke-linecap="round" stroke-linejoin="round" opacity="1.00" filter="url(#f7)"/><path d="M343.5 105 C339.5 108 338.8 113 339 117 S340 126 342.5 129" fill="none" stroke="#f00" stroke-width="4.00" stroke-linecap="round" stroke-linejoin="round" opacity="0.35" filter="url(#f3)"/><ellipse cx="354.60" cy="122.30" rx="11.47" ry="5.86" fill="url(#gp0)" transform="rotate(-10.0 354.60 122.30)"/><ellipse cx="349.00" cy="130.20" rx="8.16" ry="6.88" fill="url(#gp0)"/><path d="M378.50 122.00 L394.15 125.30 A4.60 4.60 0 1 1 390.00 133.11 Z" fill="#f00" opacity="0.85" filter="url(#f4)"/><ellipse cx="393.20" cy="129.80" rx="13.65" ry="9.58" fill="url(#gp3)" transform="rotate(20.0 393.20 129.80)"/><ellipse cx="433.70" cy="128.80" rx="22.90" ry="9.48" fill="url(#gp15)" transform="rotate(2.0 433.70 128.80)"/><ellipse cx="421.00" cy="123.00" rx="12.47" ry="9.36" fill="url(#gp6)" transform="rotate(30.0 421.00 123.00)"/></g><g style="mix-blend-mode:screen"><path d="M306.00 117.10 C305.85 116.37 306.05 115.12 306.30 114.10 C306.55 113.08 306.92 111.82 307.50 111.00 C308.08 110.18 309.05 109.62 309.80 109.20 C310.55 108.78 311.12 108.62 312.00 108.50 C312.88 108.38 314.08 108.33 315.10 108.50 C316.12 108.67 317.15 109.13 318.10 109.50 C319.05 109.87 320.05 110.18 320.80 110.70 C321.55 111.22 322.05 111.67 322.60 112.60 C323.15 113.53 323.90 115.30 324.10 116.30 C324.30 117.30 324.05 117.98 323.80 118.60 C323.55 119.22 323.10 119.93 322.60 120.00 C322.10 120.07 321.25 119.53 320.80 119.00 C320.35 118.47 320.35 117.50 319.90 116.80 C319.45 116.10 318.90 115.32 318.10 114.80 C317.30 114.28 316.12 113.85 315.10 113.70 C314.08 113.55 312.88 113.68 312.00 113.90 C311.12 114.12 310.42 114.47 309.80 115.00 C309.18 115.53 308.73 116.52 308.30 117.10 C307.87 117.68 307.58 118.50 307.20 118.50 C306.82 118.50 306.15 117.83 306.00 117.10Z" fill="#00f" opacity="1.00" filter="url(#f9)"/><path d="M323 119.4 C326 119.8 330 121 333.5 124.5 S338 131 343.5 135.6" fill="none" stroke="#00f" stroke-width="3.00" stroke-linecap="round" stroke-linejoin="round" opacity="1.00" filter="url(#f2)"/><path d="M323 119.4 C326 119.8 330 121 333.5 124.5 S338 131 343.5 135.6" fill="none" stroke="#00f" stroke-width="5.40" stroke-linecap="round" stroke-linejoin="round" opacity="0.40" filter="url(#f10)"/><ellipse cx="352.60" cy="111.40" rx="12.52" ry="9.13" fill="url(#gn9)" transform="rotate(-6.0 352.60 111.40)"/><path d="M363 105 C366.5 109.5 368.5 116 370 122 S373 133 377 139" fill="none" stroke="#00f" stroke-width="3.80" stroke-linecap="round" stroke-linejoin="round" opacity="0.26" filter="url(#f8)"/><ellipse cx="389.80" cy="111.90" rx="15.81" ry="10.78" fill="url(#gn10)"/><ellipse cx="426.70" cy="111.90" rx="17.06" ry="12.95" fill="url(#gn14)"/></g></g><rect x="304.05" y="99.95" width="142.40" height="44.50" fill="none" stroke="#4fae3f" stroke-width="0.7" opacity="0.8"/><polygon points="306.8,116.4 307.2,121.6 311.4,119.0" fill="#fff"/><g filter="url(#jet3)"><rect x="-4.00" y="161.70" width="154.10" height="53.00" fill="#000"/><g><path d="M12.50 177.60 C12.97 177.40 13.88 177.68 14.40 178.20 C14.92 178.72 15.33 179.75 15.60 180.70 C15.87 181.65 16.02 182.80 16.00 183.90 C15.98 185.00 15.80 186.28 15.50 187.30 C15.20 188.32 14.80 189.07 14.20 190.00 C13.60 190.93 12.72 192.02 11.90 192.90 C11.08 193.78 10.08 194.65 9.30 195.30 C8.52 195.95 7.87 196.75 7.20 196.80 C6.53 196.85 5.33 196.17 5.30 195.60 C5.27 195.03 6.35 194.18 7.00 193.40 C7.65 192.62 8.53 191.75 9.20 190.90 C9.87 190.05 10.57 189.25 11.00 188.30 C11.43 187.35 11.67 186.25 11.80 185.20 C11.93 184.15 11.83 182.97 11.80 182.00 C11.77 181.03 11.48 180.13 11.60 179.40 C11.72 178.67 12.03 177.80 12.50 177.60Z" fill="#f00" opacity="1.00" filter="url(#f11)"/><path d="M12.8 177 C14.5 181 14.5 186 12.5 190" fill="none" stroke="#f00" stroke-width="4.60" stroke-linecap="round" stroke-linejoin="round" opacity="0.30" filter="url(#f1)"/><ellipse cx="26.20" cy="191.70" rx="9.94" ry="6.12" fill="url(#gp0)" transform="rotate(-8.0 26.20 191.70)"/><ellipse cx="58.40" cy="196.80" rx="11.45" ry="10.02" fill="url(#gp16)"/><ellipse cx="57.20" cy="194.60" rx="13.12" ry="12.51" fill="url(#gp17)"/><path d="M63.8 188 C59.5 186.6 55 187.8 53 191 S53 196.5 55.5 199.5" fill="none" stroke="#f00" stroke-width="3.00" stroke-linecap="round" stroke-linejoin="round" opacity="1.00" filter="url(#f2)"/><path d="M47 177 C45 184 45.5 192 49 199.5" fill="none" stroke="#f00" stroke-width="3.60" stroke-linecap="round" stroke-linejoin="round" opacity="0.28" filter="url(#f14)"/><path d="M85.00 190.00 L98.48 191.63 A4.00 4.00 0 1 1 95.44 198.68 Z" fill="#f00" opacity="0.45" filter="url(#f4)"/><ellipse cx="98.00" cy="195.60" rx="17.73" ry="9.16" fill="url(#gp19)" transform="rotate(6.0 98.00 195.60)"/><ellipse cx="138.00" cy="196.00" rx="22.19" ry="9.90" fill="url(#gp21)" transform="rotate(2.0 138.00 196.00)"/></g><g style="mix-blend-mode:screen"><path d="M10.80 175.60 C10.87 174.95 11.47 174.17 12.10 173.70 C12.73 173.23 13.65 173.02 14.60 172.80 C15.55 172.58 16.63 172.40 17.80 172.40 C18.97 172.40 20.43 172.47 21.60 172.80 C22.77 173.13 23.92 173.62 24.80 174.40 C25.68 175.18 26.48 176.35 26.90 177.50 C27.32 178.65 27.45 180.13 27.30 181.30 C27.15 182.47 26.63 183.58 26.00 184.50 C25.37 185.42 24.45 186.33 23.50 186.80 C22.55 187.27 21.25 187.37 20.30 187.30 C19.35 187.23 18.48 186.87 17.80 186.40 C17.12 185.93 16.55 185.23 16.20 184.50 C15.85 183.77 15.80 182.85 15.70 182.00 C15.60 181.15 15.78 180.13 15.60 179.40 C15.42 178.67 15.05 178.02 14.60 177.60 C14.15 177.18 13.38 176.90 12.90 176.90 C12.42 176.90 12.05 177.82 11.70 177.60 C11.35 177.38 10.73 176.25 10.80 175.60Z" fill="#00f" opacity="1.00" filter="url(#f11)"/><path d="M2.30 193.00 C2.13 192.47 2.28 190.93 2.60 190.00 C2.92 189.07 3.50 188.07 4.20 187.40 C4.90 186.73 5.95 186.25 6.80 186.00 C7.65 185.75 8.65 185.77 9.30 185.90 C9.95 186.03 10.48 186.40 10.70 186.80 C10.92 187.20 10.82 187.77 10.60 188.30 C10.38 188.83 9.83 189.62 9.40 190.00 C8.97 190.38 8.50 190.47 8.00 190.60 C7.50 190.73 6.93 190.63 6.40 190.80 C5.87 190.97 5.27 191.20 4.80 191.60 C4.33 192.00 4.02 192.97 3.60 193.20 C3.18 193.43 2.47 193.53 2.30 193.00Z" fill="#00f" opacity="1.00" filter="url(#f11)"/><path d="M12 173.5 C15 171.5 20 171 24 172.5" fill="none" stroke="#00f" stroke-width="2.00" stroke-linecap="round" stroke-linejoin="round" opacity="0.35" filter="url(#f12)"/><path d="M32.5 184 C35.5 188 38.5 193 43 198.5 S50 204.5 56.5 206.5" fill="none" stroke="#00f" stroke-width="2.00" stroke-linecap="round" stroke-linejoin="round" opacity="0.85" filter="url(#f7)"/><path d="M32 183 C35 188 38.5 193 43 198.5 S50 205 57 207.2" fill="none" stroke="#00f" stroke-width="5.40" stroke-linecap="round" stroke-linejoin="round" opacity="0.35" filter="url(#f13)"/><ellipse cx="57.40" cy="178.20" rx="15.68" ry="10.83" fill="url(#gn2)"/><ellipse cx="94.20" cy="177.60" rx="15.56" ry="11.16" fill="url(#gn18)"/><ellipse cx="134.60" cy="179.50" rx="16.65" ry="13.32" fill="url(#gn20)"/></g></g><rect x="0.35" y="166.05" width="145.40" height="44.30" fill="none" stroke="#4fae3f" stroke-width="0.7" opacity="0.8"/><polygon points="3.8,190.9 4.2,195.6 8.0,193.4" fill="#fff"/><g filter="url(#jet4)"><rect x="148.10" y="161.70" width="152.00" height="53.00" fill="#000"/><g><path d="M173 173.5 C170 177.5 168.8 183.5 169.5 189 S172.5 195.5 176.5 194.5 S181 190.5 184 190" fill="none" stroke="#f00" stroke-width="4.50" stroke-linecap="round" stroke-linejoin="round" opacity="1.00" filter="url(#f9)"/><path d="M173.5 172 C168.5 177 166.6 185 167.6 191" fill="none" stroke="#f00" stroke-width="5.00" stroke-linecap="round" stroke-linejoin="round" opacity="0.35" filter="url(#f3)"/><path d="M156.5 196.6 C161.5 197.8 166.5 197.4 170.5 195.6" fill="none" stroke="#f00" stroke-width="3.20" stroke-linecap="round" stroke-linejoin="round" opacity="1.00" filter="url(#f9)"/><ellipse cx="186.40" cy="190.60" rx="9.69" ry="5.61" fill="url(#gp0)" transform="rotate(-5.0 186.40 190.60)"/><ellipse cx="217.80" cy="195.60" rx="11.45" ry="10.30" fill="url(#gp16)"/><ellipse cx="216.60" cy="193.80" rx="13.12" ry="12.82" fill="url(#gp17)"/><path d="M222.8 187.2 C218.5 185.8 214 187 212 190.2 S212 195.8 214.5 198.8" fill="none" stroke="#f00" stroke-width="3.00" stroke-linecap="round" stroke-linejoin="round" opacity="1.00" filter="url(#f2)"/><path d="M206 177 C204 184 204.5 192 208 199.5" fill="none" stroke="#f00" stroke-width="3.60" stroke-linecap="round" stroke-linejoin="round" opacity="0.28" filter="url(#f14)"/><path d="M244.50 190.00 L258.46 191.63 A4.00 4.00 0 1 1 255.51 198.73 Z" fill="#f00" opacity="0.45" filter="url(#f4)"/><ellipse cx="258.00" cy="195.60" rx="18.47" ry="9.16" fill="url(#gp19)" transform="rotate(6.0 258.00 195.60)"/><ellipse cx="296.00" cy="196.00" rx="22.19" ry="9.90" fill="url(#gp21)" transform="rotate(2.0 296.00 196.00)"/></g><g style="mix-blend-mode:screen"><ellipse cx="180.20" cy="177.80" rx="9.30" ry="10.05" fill="url(#gn22)"/><path d="M171.5 174.5 C174 171.5 177.5 170.3 181 170.3" fill="none" stroke="#00f" stroke-width="2.00" stroke-linecap="round" stroke-linejoin="round" opacity="0.50" filter="url(#f12)"/><ellipse cx="161.60" cy="191.20" rx="10.05" ry="6.03" fill="url(#gn22)" transform="rotate(8.0 161.60 191.20)"/><path d="M190 185.5 C195 186.5 199.5 190.5 203.5 196.5 S210 204.5 218 206.8" fill="none" stroke="#00f" stroke-width="3.00" stroke-linecap="round" stroke-linejoin="round" opacity="0.40" filter="url(#f10)"/><path d="M197.5 185 C200.5 189.5 203 194.5 206.5 199 S212 205 219.5 205.8" fill="none" stroke="#00f" stroke-width="1.80" stroke-linecap="round" stroke-linejoin="round" opacity="0.75" filter="url(#f2)"/><ellipse cx="215.60" cy="177.00" rx="15.74" ry="10.59" fill="url(#gn23)"/><ellipse cx="253.40" cy="177.60" rx="15.56" ry="11.16" fill="url(#gn18)"/><ellipse cx="292.50" cy="178.00" rx="16.65" ry="13.32" fill="url(#gn20)"/></g></g><rect x="152.45" y="166.05" width="143.30" height="44.30" fill="none" stroke="#4fae3f" stroke-width="0.7" opacity="0.8"/><polygon points="155.1,189.4 155.6,194.7 159.6,192.0" fill="#fff"/><g filter="url(#jet5)"><rect x="299.80" y="161.70" width="150.20" height="53.00" fill="#000"/><g><path d="M309.00 188.60 C309.75 188.42 311.53 188.70 312.80 189.00 C314.07 189.30 315.47 189.80 316.60 190.40 C317.73 191.00 318.98 191.77 319.60 192.60 C320.22 193.43 320.55 194.55 320.30 195.40 C320.05 196.25 319.10 197.27 318.10 197.70 C317.10 198.13 315.57 198.25 314.30 198.00 C313.03 197.75 311.43 197.02 310.50 196.20 C309.57 195.38 309.07 194.12 308.70 193.10 C308.33 192.08 308.25 190.85 308.30 190.10 C308.35 189.35 308.25 188.78 309.00 188.60Z" fill="#f00" opacity="1.00" filter="url(#f11)"/><path d="M332.6 172.6 C329 176.5 327.8 181 328.2 186 S329.5 192 331 195" fill="none" stroke="#f00" stroke-width="2.60" stroke-linecap="round" stroke-linejoin="round" opacity="0.90" filter="url(#f2)"/><path d="M332.5 171.5 C327.5 175.5 326.5 182 327 188 S329 196 332 199" fill="none" stroke="#f00" stroke-width="5.00" stroke-linecap="round" stroke-linejoin="round" opacity="0.35" filter="url(#f3)"/><ellipse cx="333.00" cy="192.50" rx="5.10" ry="8.41" fill="url(#gp0)" transform="rotate(10.0 333.00 192.50)"/><ellipse cx="344.00" cy="191.30" rx="10.20" ry="5.86" fill="url(#gp0)" transform="rotate(-10.0 344.00 191.30)"/><path d="M365.50 186.50 L379.06 191.04 A4.60 4.60 0 1 1 373.87 198.09 Z" fill="#f00" opacity="0.85" filter="url(#f4)"/><ellipse cx="377.60" cy="195.40" rx="14.52" ry="9.87" fill="url(#gp3)" transform="rotate(30.0 377.60 195.40)"/><ellipse cx="416.70" cy="195.00" rx="22.88" ry="9.46" fill="url(#gp17)" transform="rotate(3.0 416.70 195.00)"/><ellipse cx="405.00" cy="190.00" rx="11.43" ry="7.90" fill="url(#gp6)" transform="rotate(25.0 405.00 190.00)"/></g><g style="mix-blend-mode:screen"><path d="M306.80 183.30 C307.00 182.80 307.00 182.55 307.50 182.30 C308.00 182.05 308.78 181.58 309.80 181.80 C310.82 182.02 311.97 182.80 313.60 183.60 C315.23 184.40 317.97 185.67 319.60 186.60 C321.23 187.53 322.40 188.27 323.40 189.20 C324.40 190.13 324.98 191.17 325.60 192.20 C326.22 193.23 326.90 194.48 327.10 195.40 C327.30 196.32 327.17 197.28 326.80 197.70 C326.43 198.12 325.60 198.25 324.90 197.90 C324.20 197.55 323.48 196.48 322.60 195.60 C321.72 194.72 320.60 193.48 319.60 192.60 C318.60 191.72 317.73 190.93 316.60 190.30 C315.47 189.67 314.07 189.10 312.80 188.80 C311.53 188.50 309.93 188.75 309.00 188.50 C308.07 188.25 307.65 187.83 307.20 187.30 C306.75 186.77 306.37 185.97 306.30 185.30 C306.23 184.63 306.60 183.80 306.80 183.30Z" fill="#00f" opacity="1.00" filter="url(#f11)"/><path d="M309 184.8 C313 185.3 316.5 186.8 319.5 189.2 S324 194.5 327 198.5" fill="none" stroke="#00f" stroke-width="6.40" stroke-linecap="round" stroke-linejoin="round" opacity="0.30" filter="url(#f10)"/><ellipse cx="339.80" cy="177.80" rx="11.84" ry="9.52" fill="url(#gn24)" transform="rotate(-12.0 339.80 177.80)"/><path d="M334 168.5 C341 166.5 350 167 355.5 171 S359 181 360.4 190 S364 201 369 205" fill="none" stroke="#00f" stroke-width="3.40" stroke-linecap="round" stroke-linejoin="round" opacity="0.22" filter="url(#f13)"/><ellipse cx="374.90" cy="177.50" rx="15.68" ry="10.55" fill="url(#gn2)"/><ellipse cx="412.60" cy="177.50" rx="16.33" ry="11.79" fill="url(#gn25)"/></g></g><rect x="304.15" y="166.05" width="141.50" height="44.30" fill="none" stroke="#4fae3f" stroke-width="0.7" opacity="0.8"/><polygon points="306.8,184.1 307.2,188.7 310.9,186.3" fill="#fff"/><path d="M23.9 135.8 C19.5 130 18.2 119 19.6 112 C21 106 25.5 102.6 30.5 101.8 C35 101.2 40 101.8 43 104 C46 106.5 49 110 53 113.2 C57 116.3 60 119.5 62.5 124 C64.5 128 66.5 131.5 70 134 C73.5 136.2 78 137 81.5 138.6 C84 140 84.6 142.6 82.5 144.4 C80 145.8 75 145.4 71 143 C66.5 140.2 62 137 57 134.2 C53 131.8 48.5 129.5 44.5 130.5 C40 131.8 35.5 135.5 30.5 137.2 C27.5 138 25.4 137.4 23.9 135.8 Z" fill="none" stroke="#0a0a0a" stroke-width="1.7" stroke-linecap="round" stroke-dasharray="0.01 2.5"/><path d="M57.8 106.2 L53.6 110.9" stroke="#222" stroke-width="0.6"/><path d="M52.6 112.0 L53.4 109.4 L55.0 110.8 Z" fill="#222"/><text x="56.00" y="104.80" font-size="6.00" text-anchor="start" fill="#111" textLength="72.2" lengthAdjust="spacingAndGlyphs" stroke="#111" stroke-width="0.18">from previous oscillation cycle</text><text x="114.20" y="142.50" font-size="4.60" text-anchor="start" fill="#111" textLength="13.6" lengthAdjust="spacingAndGlyphs" stroke="#111" stroke-width="0.12">tU/D =</text><text x="132.90" y="142.90" font-size="6.90" text-anchor="start" fill="#111" textLength="11" lengthAdjust="spacingAndGlyphs" stroke="#111" stroke-width="0.2">418</text><text x="262.00" y="142.30" font-size="4.60" text-anchor="start" fill="#111" textLength="13.6" lengthAdjust="spacingAndGlyphs" stroke="#111" stroke-width="0.12">tU/D =</text><text x="280.80" y="142.70" font-size="6.90" text-anchor="start" fill="#111" textLength="11" lengthAdjust="spacingAndGlyphs" stroke="#111" stroke-width="0.2">420</text><text x="409.00" y="142.70" font-size="4.60" text-anchor="start" fill="#111" textLength="13.6" lengthAdjust="spacingAndGlyphs" stroke="#111" stroke-width="0.12">tU/D =</text><text x="426.70" y="143.10" font-size="6.90" text-anchor="start" fill="#111" textLength="11" lengthAdjust="spacingAndGlyphs" stroke="#111" stroke-width="0.2">422</text><text x="111.80" y="208.30" font-size="4.60" text-anchor="start" fill="#111" textLength="13.6" lengthAdjust="spacingAndGlyphs" stroke="#111" stroke-width="0.12">tU/D =</text><text x="130.30" y="208.70" font-size="6.90" text-anchor="start" fill="#111" textLength="11" lengthAdjust="spacingAndGlyphs" stroke="#111" stroke-width="0.2">424</text><text x="262.80" y="208.30" font-size="4.60" text-anchor="start" fill="#111" textLength="13.6" lengthAdjust="spacingAndGlyphs" stroke="#111" stroke-width="0.12">tU/D =</text><text x="281.20" y="208.70" font-size="6.90" text-anchor="start" fill="#111" textLength="11" lengthAdjust="spacingAndGlyphs" stroke="#111" stroke-width="0.2">426</text><text x="408.50" y="207.90" font-size="4.60" text-anchor="start" fill="#111" textLength="13.6" lengthAdjust="spacingAndGlyphs" stroke="#111" stroke-width="0.12">tU/D =</text><text x="427.00" y="208.30" font-size="6.90" text-anchor="start" fill="#111" textLength="11" lengthAdjust="spacingAndGlyphs" stroke="#111" stroke-width="0.2">428</text><text x="328.40" y="140.00" font-size="6.20" text-anchor="middle" fill="#111" stroke="#111" stroke-width="0.15">A</text><path d="M331.4 136.2 L339.0 132.6" stroke="#222" stroke-width="0.55"/><text x="32.60" y="174.20" font-size="6.20" text-anchor="middle" fill="#111" stroke="#111" stroke-width="0.15">C</text><path d="M30.2 173.6 L24.2 180.5" stroke="#222" stroke-width="0.55"/><text x="14.30" y="204.60" font-size="6.20" text-anchor="middle" fill="#111" stroke="#111" stroke-width="0.15">B</text><path d="M16.4 200.9 L22.6 194.0" stroke="#222" stroke-width="0.55"/><text x="35.00" y="205.00" font-size="6.20" text-anchor="middle" fill="#111" stroke="#111" stroke-width="0.15">A</text><path d="M38.0 201.9 L45.0 199.2" stroke="#222" stroke-width="0.55"/><text x="350.20" y="172.60" font-size="6.20" text-anchor="middle" fill="#111" stroke="#111" stroke-width="0.15">C</text><path d="M348.4 172.4 L343.3 177.4" stroke="#222" stroke-width="0.55"/><text x="321.80" y="207.50" font-size="6.20" text-anchor="middle" fill="#111" stroke="#111" stroke-width="0.15">D</text><path d="M324.0 203.6 L332.0 197.6" stroke="#222" stroke-width="0.55"/><text x="340.50" y="207.50" font-size="6.20" text-anchor="middle" fill="#111" stroke="#111" stroke-width="0.15">B</text><path d="M341.6 203.4 L344.0 195.0" stroke="#222" stroke-width="0.55"/><text x="359.60" y="208.60" font-size="6.20" text-anchor="middle" fill="#111" stroke="#111" stroke-width="0.15">A</text><path d="M362.8 205.2 L369.8 202.2" stroke="#222" stroke-width="0.55"/><text x="72.00" y="156.60" font-size="8.20" text-anchor="middle" fill="#111" stroke="#111" stroke-width="0.2">(c)</text><text x="228.90" y="155.20" font-size="8.20" text-anchor="middle" fill="#111" stroke="#111" stroke-width="0.2">(d)</text><text x="383.80" y="154.00" font-size="8.20" text-anchor="middle" fill="#111" stroke="#111" stroke-width="0.2">(e)</text><text x="72.10" y="221.90" font-size="8.20" text-anchor="middle" fill="#111" stroke="#111" stroke-width="0.2">(f)</text><text x="231.70" y="221.40" font-size="8.20" text-anchor="middle" fill="#111" stroke="#111" stroke-width="0.2">(g)</text><text x="388.20" y="220.00" font-size="8.20" text-anchor="middle" fill="#111" stroke="#111" stroke-width="0.2">(h)</text><rect x="109.6" y="230.4" width="227.4" height="23" fill="#6bc35b"/><path d="M109.6 231.2 H337" stroke="#52b542" stroke-width="0.9"/><text x="223.40" y="240.20" font-size="7.40" text-anchor="middle" fill="#eef8ea" textLength="32.7" lengthAdjust="spacingAndGlyphs">Vorticity Z</text><text x="126.40" y="248.60" font-size="7.00" text-anchor="middle" fill="#eef8ea">-1.0e+00</text><path d="M126.4 250.6 V252" stroke="#eef8ea" stroke-width="0.6"/><text x="174.70" y="248.60" font-size="7.00" text-anchor="middle" fill="#eef8ea">-0.5</text><path d="M174.7 250.6 V252" stroke="#eef8ea" stroke-width="0.6"/><text x="223.80" y="248.60" font-size="7.00" text-anchor="middle" fill="#eef8ea">0</text><path d="M223.8 250.6 V252" stroke="#eef8ea" stroke-width="0.6"/><text x="272.20" y="248.60" font-size="7.00" text-anchor="middle" fill="#eef8ea">0.5</text><path d="M272.2 250.6 V252" stroke="#eef8ea" stroke-width="0.6"/><text x="321.50" y="248.60" font-size="7.00" text-anchor="middle" fill="#eef8ea">1.0e+00</text><path d="M321.5 250.6 V252" stroke="#eef8ea" stroke-width="0.6"/></svg></body></html>
